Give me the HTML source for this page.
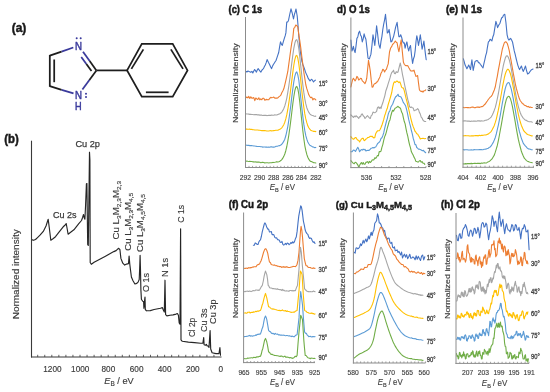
<!DOCTYPE html>
<html><head><meta charset="utf-8"><title>XPS figure</title>
<style>html,body{margin:0;padding:0;background:#fff;}svg{display:block;filter:blur(0.3px);}text{font-family:"Liberation Sans", sans-serif;}</style>
</head><body>
<svg width="550" height="392" viewBox="0 0 550 392">
<rect width="550" height="392" fill="#fff"/>
<polyline points="31.50,239.60 33.50,240.30 35.50,239.50 37.50,237.60 40.00,235.20 43.30,231.40 46.00,226.00 48.20,219.30 49.50,229.50 50.80,240.20 53.00,238.70 55.50,236.70 59.00,232.20 63.20,226.80 65.20,225.00 66.20,223.50 67.20,229.00 68.10,234.20 70.00,232.80 73.90,229.80 78.80,223.70 81.50,220.50 82.60,217.50 83.50,214.50 84.30,218.00 84.90,219.20 85.60,205.00 86.40,184.00 86.90,183.50 87.30,215.00 87.70,244.50 88.30,245.50 88.90,200.00 89.50,152.20 89.90,160.00 90.20,262.50 91.30,264.30 94.10,262.20 105.00,256.40 113.80,251.60 116.10,250.60 118.40,248.30 119.90,249.50 120.90,258.40 122.80,263.20 124.70,265.10 126.60,264.10 128.50,263.60 129.10,256.00 129.80,264.20 130.40,269.30 131.40,277.00 133.00,280.80 134.90,284.00 136.80,283.40 138.10,282.10 139.20,279.50 139.70,268.00 140.10,255.30 140.50,270.00 140.90,290.00 141.40,299.30 142.70,301.30 143.60,301.50 143.90,308.30 144.30,303.00 145.00,297.00 145.30,309.50 146.50,310.80 150.30,310.60 154.10,309.50 160.50,308.30 162.40,307.60 163.10,309.50 164.30,312.10 165.00,280.20 165.60,314.60 166.90,315.90 170.00,315.30 173.10,314.90 176.10,314.10 177.40,313.50 178.40,315.30 179.20,323.00 180.00,324.20 180.60,228.80 181.00,339.80 182.30,341.30 188.40,342.10 194.50,342.60 200.60,343.20 202.90,343.20 203.70,337.50 204.10,344.70 205.50,345.20 206.40,344.40 207.20,346.00 208.30,346.00 209.00,347.50 210.10,330.60 210.70,349.00 212.10,352.80 216.00,353.60 219.00,353.60 219.90,347.50 220.50,355.10" fill="none" stroke="#262626" stroke-width="1.15" stroke-linejoin="round" stroke-linecap="round" stroke-linejoin="miter" stroke-miterlimit="20"/>
<polyline points="245.70,71.30 246.85,72.02 248.00,71.00 249.05,71.41 250.10,72.10 251.00,72.16 251.90,71.37 252.80,73.00 253.70,71.25 254.60,69.50 255.50,70.64 256.40,72.10 257.30,70.08 258.20,68.60 259.10,69.92 260.00,71.14 260.90,72.10 261.77,70.40 262.63,69.32 263.50,68.60 264.40,66.56 265.30,65.00 266.20,62.64 267.10,59.60 268.40,62.30 269.80,65.00 270.70,67.08 271.60,68.60 272.48,66.15 273.37,64.44 274.25,63.20 275.13,61.80 276.02,60.45 276.90,57.90 277.80,55.18 278.70,52.50 279.60,46.81 280.50,41.80 281.40,44.15 282.30,45.40 283.35,41.65 284.40,38.20 285.15,35.91 285.90,32.90 286.75,22.10 287.62,22.02 288.50,20.40 289.80,14.00 291.00,8.80 292.20,13.00 293.50,19.00 294.50,14.00 295.25,11.82 296.00,9.00 297.20,16.00 297.90,24.00 298.80,36.00 300.10,50.00 301.00,55.74 301.90,61.40 302.80,64.47 303.70,66.80 304.60,69.13 305.50,72.10 306.40,74.11 307.30,76.01 308.20,78.40 309.10,79.60 310.00,81.00 310.88,79.91 311.75,79.30 312.62,80.56 313.50,82.00 314.40,80.91 315.30,80.20" fill="none" stroke="#4472C4" stroke-width="1.1" stroke-linejoin="round" stroke-linecap="round"/>
<polyline points="245.80,97.87 246.80,97.04 247.80,97.88 248.80,96.43 249.80,98.49 250.80,96.75 251.80,98.08 252.80,98.08 253.80,97.62 254.80,100.66 255.80,97.97 256.80,98.92 257.80,99.50 258.80,97.74 259.80,99.87 260.80,98.78 261.80,99.77 262.80,98.30 263.80,98.28 264.80,100.14 265.80,99.64 266.80,99.40 267.80,99.79 268.80,99.66 269.80,98.27 270.80,97.37 271.80,97.72 272.80,97.54 273.80,97.08 274.80,98.17 275.80,98.05 276.80,98.13 277.80,97.91 278.80,96.82 279.80,96.08 280.80,95.19 281.80,92.76 282.80,90.90 283.80,88.80 284.80,84.82 285.80,80.71 286.80,76.08 287.80,71.46 288.80,64.19 289.80,56.72 290.80,49.36 291.80,42.70 292.80,38.10 293.80,28.33 294.80,27.31 295.80,24.98 296.80,25.61 297.80,26.84 298.80,34.71 299.80,40.83 300.80,48.02 301.80,56.56 302.80,63.98 303.80,72.05 304.80,78.41 305.80,84.74 306.80,88.65 307.80,91.69 308.80,94.84 309.80,96.59 310.80,97.64 311.80,97.17 312.80,99.86 313.80,98.56 314.80,99.01 315.80,99.98" fill="none" stroke="#ED7D31" stroke-width="1.1" stroke-linejoin="round" stroke-linecap="round"/>
<polyline points="245.80,113.76 246.80,114.02 247.80,114.01 248.80,114.16 249.80,114.35 250.80,114.34 251.80,114.53 252.80,114.55 253.80,114.71 254.80,114.49 255.80,114.60 256.80,114.62 257.80,114.92 258.80,114.90 259.80,115.11 260.80,115.11 261.80,115.16 262.80,115.47 263.80,115.35 264.80,115.33 265.80,115.28 266.80,115.59 267.80,115.56 268.80,115.28 269.80,115.36 270.80,115.37 271.80,115.09 272.80,115.20 273.80,115.32 274.80,114.87 275.80,114.99 276.80,114.99 277.80,114.46 278.80,114.14 279.80,113.74 280.80,113.07 281.80,112.05 282.80,110.39 283.80,108.50 284.80,105.92 285.80,102.36 286.80,98.08 287.80,92.46 288.80,86.03 289.80,79.04 290.80,70.97 291.80,62.83 292.80,55.23 293.80,48.40 294.80,43.27 295.80,40.17 296.80,39.62 297.80,42.54 298.80,48.56 299.80,56.99 300.80,66.39 301.80,75.62 302.80,84.59 303.80,92.39 304.80,98.77 305.80,103.88 306.80,107.72 307.80,110.31 308.80,112.37 309.80,113.81 310.80,114.74 311.80,115.18 312.80,115.56 313.80,115.97 314.80,116.35 315.80,116.16" fill="none" stroke="#A5A5A5" stroke-width="1.1" stroke-linejoin="round" stroke-linecap="round"/>
<polyline points="245.80,129.14 246.80,129.06 247.80,129.18 248.80,129.25 249.80,129.12 250.80,129.48 251.80,129.38 252.80,129.69 253.80,129.69 254.80,129.99 255.80,129.93 256.80,130.05 257.80,130.01 258.80,130.31 259.80,130.30 260.80,130.48 261.80,130.59 262.80,130.67 263.80,130.63 264.80,130.51 265.80,130.67 266.80,130.98 267.80,131.00 268.80,131.01 269.80,130.76 270.80,130.67 271.80,130.85 272.80,130.80 273.80,130.63 274.80,130.54 275.80,130.27 276.80,130.26 277.80,130.24 278.80,129.67 279.80,129.30 280.80,128.72 281.80,127.80 282.80,126.33 283.80,124.67 284.80,122.18 285.80,118.92 286.80,114.67 287.80,109.47 288.80,103.09 289.80,96.25 290.80,88.20 291.80,80.31 292.80,72.43 293.80,65.23 294.80,59.54 295.80,56.04 296.80,55.34 297.80,58.05 298.80,63.84 299.80,71.71 300.80,80.94 301.80,90.76 302.80,99.40 303.80,107.11 304.80,113.92 305.80,118.94 306.80,122.70 307.80,125.85 308.80,127.72 309.80,129.17 310.80,130.28 311.80,130.67 312.80,130.97 313.80,131.56 314.80,131.33 315.80,131.62" fill="none" stroke="#FFC000" stroke-width="1.1" stroke-linejoin="round" stroke-linecap="round"/>
<polyline points="245.80,145.11 246.80,145.32 247.80,145.35 248.80,145.41 249.80,145.63 250.80,145.43 251.80,145.64 252.80,145.74 253.80,145.96 254.80,146.04 255.80,146.18 256.80,146.36 257.80,146.51 258.80,146.57 259.80,146.52 260.80,146.78 261.80,146.76 262.80,147.12 263.80,147.06 264.80,147.05 265.80,147.11 266.80,147.05 267.80,147.21 268.80,146.98 269.80,147.17 270.80,146.79 271.80,146.84 272.80,147.16 273.80,147.09 274.80,146.97 275.80,146.39 276.80,146.29 277.80,146.09 278.80,145.78 279.80,145.66 280.80,144.97 281.80,144.20 282.80,142.91 283.80,141.14 284.80,139.18 285.80,135.78 286.80,131.41 287.80,126.58 288.80,120.10 289.80,113.01 290.80,105.42 291.80,96.90 292.80,88.99 293.80,81.80 294.80,76.44 295.80,73.00 296.80,71.93 297.80,74.81 298.80,80.18 299.80,88.51 300.80,98.06 301.80,107.35 302.80,116.36 303.80,124.16 304.80,130.68 305.80,135.66 306.80,139.16 307.80,142.00 308.80,143.78 309.80,145.21 310.80,145.67 311.80,146.34 312.80,147.00 313.80,147.13 314.80,147.64 315.80,147.42" fill="none" stroke="#5B9BD5" stroke-width="1.1" stroke-linejoin="round" stroke-linecap="round"/>
<polyline points="245.80,161.17 246.80,161.01 247.80,161.24 248.80,161.43 249.80,161.32 250.80,161.50 251.80,161.54 252.80,161.83 253.80,161.73 254.80,161.94 255.80,161.89 256.80,162.16 257.80,162.04 258.80,162.09 259.80,162.27 260.80,162.67 261.80,162.42 262.80,162.31 263.80,162.44 264.80,163.05 265.80,162.69 266.80,162.76 267.80,162.80 268.80,162.97 269.80,162.79 270.80,162.73 271.80,162.61 272.80,162.42 273.80,162.45 274.80,162.28 275.80,161.99 276.80,161.67 277.80,162.02 278.80,161.69 279.80,161.20 280.80,160.57 281.80,159.63 282.80,158.16 283.80,156.35 284.80,153.98 285.80,150.73 286.80,146.50 287.80,141.21 288.80,135.26 289.80,128.09 290.80,120.38 291.80,112.21 292.80,103.84 293.80,96.77 294.80,90.89 295.80,87.27 296.80,86.45 297.80,88.69 298.80,94.19 299.80,102.38 300.80,111.73 301.80,121.31 302.80,130.47 303.80,138.47 304.80,145.52 305.80,150.42 306.80,154.43 307.80,157.29 308.80,159.13 309.80,160.79 310.80,161.50 311.80,161.64 312.80,162.21 313.80,162.76 314.80,162.75 315.80,163.02" fill="none" stroke="#70AD47" stroke-width="1.1" stroke-linejoin="round" stroke-linecap="round"/>
<polyline points="350.90,40.10 351.90,50.90 352.65,49.24 353.40,46.40 354.25,50.37 355.10,52.60 356.00,46.06 356.90,38.40 357.80,37.01 358.70,32.73 359.60,31.20 360.50,34.90 361.40,36.60 362.30,41.90 363.20,38.78 364.10,33.90 365.00,36.98 365.90,39.30 366.95,48.10 368.00,58.00 368.70,58.80 369.40,58.90 370.15,56.36 370.90,54.40 371.95,45.51 373.00,34.80 373.90,39.87 374.80,45.50 375.70,36.08 376.60,25.90 377.65,34.21 378.70,43.70 379.40,46.36 380.10,48.20 381.00,41.43 381.90,36.60 382.80,29.48 383.70,24.10 384.60,19.83 385.50,14.25 386.40,23.34 387.30,33.00 388.20,32.27 389.10,29.40 390.00,35.35 390.90,41.90 391.75,41.56 392.60,39.30 393.70,36.09 394.80,31.20 395.57,27.39 396.33,24.79 397.10,22.30 398.00,30.13 398.90,36.60 399.80,36.73 400.70,34.80 401.60,37.16 402.50,41.00 403.40,42.99 404.30,42.80 405.10,48.20 406.00,44.32 406.90,41.90 407.80,47.42 408.70,50.90 409.60,47.39 410.50,45.50 411.55,55.47 412.60,63.40 413.50,58.72 414.40,56.20 415.20,50.38 416.00,41.72 416.80,35.70 417.65,39.89 418.50,45.50 419.40,40.38 420.30,34.80 421.20,41.54 422.10,49.10 423.00,45.62 423.90,41.00 424.67,47.66 425.43,54.16 426.20,59.80" fill="none" stroke="#4472C4" stroke-width="1.1" stroke-linejoin="round" stroke-linecap="round"/>
<polyline points="350.90,87.00 351.70,83.47 352.50,80.00 353.40,78.20 354.25,79.48 355.10,80.90 356.00,79.28 356.90,76.40 357.80,77.45 358.70,80.00 359.60,79.55 360.50,78.20 361.40,78.52 362.30,80.90 363.20,81.68 364.10,82.56 365.00,83.60 365.88,81.58 366.75,78.20 367.62,69.29 368.50,60.40 369.40,65.38 370.30,71.10 371.20,79.92 372.10,87.10 373.00,86.90 373.90,84.35 374.80,83.60 375.70,83.42 376.60,82.13 377.50,81.80 378.37,80.10 379.23,78.35 380.10,76.40 381.00,73.27 381.90,71.71 382.80,69.30 383.70,70.01 384.60,72.00 385.50,70.06 386.40,69.30 387.30,66.33 388.20,63.90 389.50,52.00 390.65,48.01 391.80,46.40 392.65,44.16 393.50,43.70 394.40,42.49 395.30,41.00 396.20,42.29 397.10,42.80 398.00,47.79 398.90,51.75 400.05,45.50 401.20,39.80 402.30,51.37 403.40,62.10 404.27,64.24 405.13,65.21 406.00,65.70 406.90,65.47 407.80,65.85 408.70,67.50 409.60,68.94 410.50,70.65 411.40,71.10 412.27,70.79 413.13,71.07 414.00,70.20 414.95,73.45 415.90,76.40 416.75,76.08 417.60,75.50 418.50,82.83 419.40,89.80 420.30,90.83 421.20,91.60 422.10,91.05 423.00,92.11 423.90,90.70 424.80,90.80 425.70,89.80" fill="none" stroke="#ED7D31" stroke-width="1.1" stroke-linejoin="round" stroke-linecap="round"/>
<polyline points="350.90,114.80 352.15,116.09 353.40,117.50 354.27,116.02 355.13,116.95 356.00,115.70 356.90,116.46 357.80,117.21 358.70,118.40 359.60,116.67 360.50,116.70 361.40,114.36 362.30,113.90 363.20,115.78 364.10,116.56 365.00,118.40 365.87,117.52 366.73,116.46 367.60,115.70 368.50,116.95 369.40,117.95 370.30,118.40 371.20,115.66 372.10,114.83 373.00,112.10 373.90,112.55 374.80,112.74 375.70,112.10 376.60,111.25 377.50,107.67 378.40,106.80 379.27,108.52 380.13,107.04 381.00,108.60 381.90,105.21 382.80,102.80 383.70,99.60 384.80,95.78 385.90,90.70 387.05,87.53 388.20,83.60 389.10,80.82 390.00,77.93 390.90,74.60 391.77,72.48 392.63,71.68 393.50,70.20 394.40,73.47 395.30,73.75 396.20,71.67 397.10,72.44 398.00,72.00 399.15,67.44 400.30,63.00 401.40,68.27 402.50,74.60 403.37,78.68 404.23,82.99 405.10,87.10 406.00,91.12 406.90,95.39 407.80,99.60 408.70,102.55 409.60,106.80 410.50,107.46 411.40,107.02 412.30,107.70 413.20,107.94 414.10,110.76 415.00,110.40 415.88,109.86 416.75,109.71 417.62,108.65 418.50,109.60 419.40,112.37 420.30,114.04 421.20,117.20 422.10,118.05 423.00,120.18 423.90,121.00 424.80,121.57 425.70,121.50" fill="none" stroke="#A5A5A5" stroke-width="1.1" stroke-linejoin="round" stroke-linecap="round"/>
<polyline points="350.90,136.60 352.15,138.35 353.40,139.30 354.27,138.72 355.13,137.63 356.00,137.50 356.90,139.19 357.80,140.17 358.70,140.24 359.60,142.00 360.50,140.58 361.40,138.92 362.30,138.40 363.20,138.21 364.10,140.66 365.00,140.20 365.87,139.09 366.73,138.80 367.60,137.50 368.50,137.47 369.40,137.09 370.30,136.20 371.20,136.60 372.10,136.22 373.00,137.32 373.90,137.95 374.80,137.50 375.70,133.70 376.60,132.10 377.48,130.89 378.35,130.68 379.23,130.78 380.10,129.50 381.00,127.49 381.90,125.32 382.80,122.50 383.70,119.64 384.60,115.93 385.50,113.50 386.40,110.42 387.30,108.26 388.20,104.50 389.35,100.85 390.50,97.00 391.75,92.50 392.62,87.32 393.50,83.60 394.40,81.80 395.27,82.38 396.13,81.54 397.00,81.00 397.93,81.70 398.87,82.71 399.80,81.80 400.70,84.12 401.60,87.10 402.48,87.89 403.37,88.00 404.25,90.70 405.13,94.35 406.02,98.20 406.90,101.40 407.80,105.25 408.70,109.14 409.60,113.00 410.50,117.23 411.40,120.59 412.30,124.00 413.20,126.66 414.10,128.79 415.00,131.25 415.87,132.14 416.73,133.71 417.60,134.00 418.50,135.61 419.40,137.08 420.30,139.00 421.20,138.44 422.10,138.46 423.00,138.30 423.90,138.48 424.80,138.74 425.70,138.50" fill="none" stroke="#FFC000" stroke-width="1.1" stroke-linejoin="round" stroke-linecap="round"/>
<polyline points="350.90,151.80 352.15,151.70 353.40,150.00 354.45,150.29 355.50,151.50 356.65,149.21 357.80,147.30 358.70,148.96 359.60,151.80 360.50,150.48 361.40,149.59 362.30,150.11 363.20,149.10 364.10,149.88 365.00,149.32 365.90,150.90 366.96,150.49 368.02,150.23 369.08,150.41 370.14,149.32 371.20,148.20 372.10,148.04 373.00,147.46 373.90,148.04 374.80,147.30 375.70,146.99 376.60,145.57 377.50,143.75 378.37,142.93 379.23,142.23 380.10,141.00 381.00,138.43 381.90,137.80 382.80,135.70 383.70,132.97 384.60,128.53 385.50,125.00 386.40,121.51 387.30,118.59 388.20,114.30 389.10,111.90 390.00,110.48 390.90,107.10 391.77,105.55 392.63,104.19 393.50,101.80 394.50,99.17 395.50,97.00 396.75,95.96 398.00,94.30 399.00,96.41 400.00,96.50 401.00,96.95 402.00,99.00 403.25,102.36 404.50,104.00 405.70,106.10 406.90,110.70 407.80,114.79 408.70,119.41 409.60,123.20 410.50,126.41 411.40,130.51 412.30,133.90 413.20,138.23 414.10,141.21 415.00,144.60 415.87,144.62 416.73,147.48 417.60,148.20 418.50,149.27 419.40,149.17 420.30,149.54 421.20,150.00 422.32,150.70 423.45,150.37 424.57,151.79 425.70,152.70" fill="none" stroke="#5B9BD5" stroke-width="1.1" stroke-linejoin="round" stroke-linecap="round"/>
<polyline points="350.90,160.70 352.15,162.19 353.40,163.40 354.27,163.72 355.13,162.30 356.00,162.50 356.90,163.65 357.80,164.93 358.70,167.00 359.60,165.37 360.50,163.63 361.40,162.50 362.30,164.20 363.20,162.47 364.10,164.30 364.98,164.15 365.85,162.40 366.73,162.14 367.60,161.60 368.50,163.19 369.40,161.40 370.30,162.50 371.20,161.65 372.10,159.95 373.00,159.80 373.90,159.85 374.80,157.82 375.70,158.41 376.60,157.10 377.48,155.52 378.35,155.83 379.23,151.57 380.10,151.80 381.00,151.09 381.90,147.41 382.80,144.60 383.70,140.39 384.60,136.88 385.50,134.80 386.40,131.85 387.30,128.09 388.20,125.00 389.09,121.57 389.98,119.94 390.86,115.76 391.75,112.50 392.64,110.27 393.52,111.21 394.41,109.36 395.30,108.00 396.20,107.66 397.10,107.08 398.00,106.25 398.90,107.26 399.80,107.64 400.70,108.90 401.60,112.05 402.50,113.74 403.40,117.90 404.27,121.54 405.13,123.90 406.00,128.60 406.90,132.88 407.80,136.44 408.70,141.00 409.60,144.82 410.50,147.90 411.40,151.80 412.27,153.43 413.13,154.99 414.00,157.10 414.92,158.66 415.83,161.31 416.75,161.60 417.63,161.96 418.52,162.00 419.40,160.70 420.30,160.62 421.20,162.27 422.10,161.60 423.00,163.21 423.90,163.18 424.80,164.30" fill="none" stroke="#70AD47" stroke-width="1.1" stroke-linejoin="round" stroke-linecap="round"/>
<polyline points="463.40,58.90 464.25,61.79 465.10,65.10 466.00,66.73 466.90,68.70 467.80,66.94 468.70,65.10 469.60,66.95 470.50,69.60 471.90,59.80 473.20,70.50 474.10,65.94 475.00,61.60 475.87,60.92 476.73,60.61 477.60,60.70 478.50,62.81 479.40,62.71 480.30,64.25 481.20,65.39 482.10,66.76 483.00,67.80 483.90,63.73 484.80,59.80 485.70,55.71 486.60,52.60 487.50,46.79 488.40,41.90 489.25,41.17 490.10,39.25 491.00,39.95 491.90,41.00 492.80,37.02 493.70,34.80 494.80,28.13 495.90,21.40 496.75,24.21 497.60,27.60 498.80,25.05 500.00,23.20 500.88,20.03 501.75,17.80 502.62,17.22 503.50,15.10 504.80,14.25 505.90,22.30 507.10,34.80 508.00,38.44 508.90,40.10 509.80,39.03 510.70,38.40 511.60,40.08 512.50,41.90 513.38,46.30 514.25,50.90 515.12,54.07 516.00,58.00 516.90,61.57 517.80,65.10 518.70,67.66 519.60,69.60 520.50,67.67 521.40,66.00 522.30,68.96 523.20,71.40 524.35,69.04 525.50,66.00 526.55,70.55 527.60,74.00 528.35,73.45 529.10,73.00 530.15,71.29 531.20,70.00 532.10,69.39 533.00,69.00" fill="none" stroke="#4472C4" stroke-width="1.1" stroke-linejoin="round" stroke-linecap="round"/>
<polyline points="463.30,107.37 464.30,107.69 465.30,107.58 466.30,107.44 467.30,107.60 468.30,107.54 469.30,107.74 470.30,107.77 471.30,107.27 472.30,107.14 473.30,107.11 474.30,107.74 475.30,107.67 476.30,107.29 477.30,106.99 478.30,107.10 479.30,107.37 480.30,106.96 481.30,106.66 482.30,106.58 483.30,105.93 484.30,104.78 485.30,103.96 486.30,102.39 487.30,101.03 488.30,99.48 489.30,98.24 490.30,97.04 491.30,96.37 492.30,94.77 493.30,92.22 494.30,89.91 495.30,86.74 496.30,81.25 497.30,76.31 498.30,70.43 499.30,65.19 500.30,59.61 501.30,54.55 502.30,49.27 503.30,45.86 504.30,42.84 505.30,41.76 506.30,42.12 507.30,43.47 508.30,46.84 509.30,50.88 510.30,56.55 511.30,61.85 512.30,67.65 513.30,73.29 514.30,78.44 515.30,83.76 516.30,88.18 517.30,91.81 518.30,95.39 519.30,98.58 520.30,100.76 521.30,102.02 522.30,103.44 523.30,103.97 524.30,105.19 525.30,105.48 526.30,106.00 527.30,106.75 528.30,106.42 529.30,107.39 530.30,107.08 531.30,107.52 532.30,107.53" fill="none" stroke="#ED7D31" stroke-width="1.1" stroke-linejoin="round" stroke-linecap="round"/>
<polyline points="463.30,121.04 464.30,120.86 465.30,120.88 466.30,121.03 467.30,121.09 468.30,121.16 469.30,121.11 470.30,121.43 471.30,121.11 472.30,121.19 473.30,121.09 474.30,121.02 475.30,121.10 476.30,121.25 477.30,120.91 478.30,120.72 479.30,120.88 480.30,121.11 481.30,120.79 482.30,120.93 483.30,121.02 484.30,120.77 485.30,120.19 486.30,120.31 487.30,119.82 488.30,119.41 489.30,118.59 490.30,117.90 491.30,116.77 492.30,114.97 493.30,112.76 494.30,110.18 495.30,107.42 496.30,103.30 497.30,98.77 498.30,93.97 499.30,88.24 500.30,82.49 501.30,76.49 502.30,71.00 503.30,65.73 504.30,61.53 505.30,58.03 506.30,56.09 507.30,55.70 508.30,57.25 509.30,59.84 510.30,63.98 511.30,68.88 512.30,74.81 513.30,80.32 514.30,86.15 515.30,92.08 516.30,97.30 517.30,102.02 518.30,106.33 519.30,109.81 520.30,112.68 521.30,115.20 522.30,116.66 523.30,118.33 524.30,119.15 525.30,120.11 526.30,120.21 527.30,120.97 528.30,121.47 529.30,121.77 530.30,121.80 531.30,121.79 532.30,122.23" fill="none" stroke="#A5A5A5" stroke-width="1.1" stroke-linejoin="round" stroke-linecap="round"/>
<polyline points="463.30,135.90 464.30,135.78 465.30,135.67 466.30,135.80 467.30,135.81 468.30,135.69 469.30,135.87 470.30,135.94 471.30,135.87 472.30,135.85 473.30,135.87 474.30,135.70 475.30,135.65 476.30,135.66 477.30,135.65 478.30,135.86 479.30,135.35 480.30,135.68 481.30,135.32 482.30,135.38 483.30,135.31 484.30,135.01 485.30,134.98 486.30,134.87 487.30,134.35 488.30,134.06 489.30,133.14 490.30,132.32 491.30,131.31 492.30,129.55 493.30,127.61 494.30,125.43 495.30,122.42 496.30,119.07 497.30,114.68 498.30,110.21 499.30,105.18 500.30,99.65 501.30,94.00 502.30,88.22 503.30,82.93 504.30,77.99 505.30,74.00 506.30,71.26 507.30,69.42 508.30,69.42 509.30,70.79 510.30,73.47 511.30,77.09 512.30,82.12 513.30,87.47 514.30,92.93 515.30,98.62 516.30,104.20 517.30,109.25 518.30,114.23 519.30,118.45 520.30,122.04 521.30,125.18 522.30,127.57 523.30,129.85 524.30,131.51 525.30,132.34 526.30,133.46 527.30,134.32 528.30,134.73 529.30,135.08 530.30,135.47 531.30,135.86 532.30,135.84" fill="none" stroke="#FFC000" stroke-width="1.1" stroke-linejoin="round" stroke-linecap="round"/>
<polyline points="463.30,149.65 464.30,149.87 465.30,149.81 466.30,149.78 467.30,149.70 468.30,150.02 469.30,150.06 470.30,150.05 471.30,149.74 472.30,149.96 473.30,149.84 474.30,149.64 475.30,149.69 476.30,149.74 477.30,149.81 478.30,149.76 479.30,149.55 480.30,149.64 481.30,149.58 482.30,149.71 483.30,149.59 484.30,149.25 485.30,149.14 486.30,148.94 487.30,148.54 488.30,148.24 489.30,147.35 490.30,146.90 491.30,145.71 492.30,144.01 493.30,142.38 494.30,140.01 495.30,137.47 496.30,133.98 497.30,129.74 498.30,125.26 499.30,120.37 500.30,115.03 501.30,109.25 502.30,103.39 503.30,98.05 504.30,92.96 505.30,88.39 506.30,85.19 507.30,83.31 508.30,82.58 509.30,83.09 510.30,85.97 511.30,89.15 512.30,93.77 513.30,98.81 514.30,104.73 515.30,110.22 516.30,116.08 517.30,121.11 518.30,126.71 519.30,131.17 520.30,134.72 521.30,138.12 522.30,140.78 523.30,143.35 524.30,144.67 525.30,145.89 526.30,146.93 527.30,148.13 528.30,148.87 529.30,148.97 530.30,149.31 531.30,149.72 532.30,149.74" fill="none" stroke="#5B9BD5" stroke-width="1.1" stroke-linejoin="round" stroke-linecap="round"/>
<polyline points="463.30,163.85 464.30,163.96 465.30,163.64 466.30,163.87 467.30,163.60 468.30,163.55 469.30,163.60 470.30,163.64 471.30,163.40 472.30,163.62 473.30,163.47 474.30,163.34 475.30,163.27 476.30,163.43 477.30,163.23 478.30,163.38 479.30,163.28 480.30,163.61 481.30,163.01 482.30,163.33 483.30,163.00 484.30,162.90 485.30,162.93 486.30,162.99 487.30,162.40 488.30,161.76 489.30,161.41 490.30,160.62 491.30,159.49 492.30,158.52 493.30,156.76 494.30,155.10 495.30,152.14 496.30,148.87 497.30,145.47 498.30,140.86 499.30,135.75 500.30,130.25 501.30,124.81 502.30,119.05 503.30,113.43 504.30,108.12 505.30,103.35 506.30,99.56 507.30,97.29 508.30,96.29 509.30,96.44 510.30,98.43 511.30,101.57 512.30,105.87 513.30,111.12 514.30,116.62 515.30,122.39 516.30,128.31 517.30,133.96 518.30,139.13 519.30,143.43 520.30,147.24 521.30,151.00 522.30,153.81 523.30,156.05 524.30,158.14 525.30,159.25 526.30,160.35 527.30,161.18 528.30,161.45 529.30,162.08 530.30,162.29 531.30,162.46 532.30,162.76" fill="none" stroke="#70AD47" stroke-width="1.1" stroke-linejoin="round" stroke-linecap="round"/>
<polyline points="253.40,245.20 254.30,245.20 255.20,242.89 256.10,243.40 257.05,244.39 258.00,244.50 258.80,242.07 259.60,240.70 260.50,239.88 261.40,236.25 262.30,231.53 263.20,228.20 264.30,224.00 265.00,222.90 265.90,224.60 266.80,227.37 267.70,229.10 268.60,229.12 269.50,232.05 270.40,231.80 271.27,231.51 272.13,234.63 273.00,234.50 273.90,234.86 274.80,237.41 275.70,238.00 276.60,237.85 277.50,239.62 278.40,239.80 279.30,240.30 280.20,242.29 281.10,242.50 281.98,241.45 282.85,244.40 283.73,245.10 284.60,244.30 285.50,243.36 286.40,244.57 287.30,243.03 288.20,243.40 289.10,244.69 290.00,243.87 290.90,242.47 291.80,243.40 292.70,241.78 293.60,242.84 294.50,241.60 295.38,238.86 296.25,237.10 297.12,231.43 298.00,222.90 298.75,216.16 299.50,212.10 300.70,205.90 301.40,206.87 302.10,210.40 303.40,221.10 304.30,225.22 305.20,230.00 306.10,232.42 307.00,233.60 307.88,234.47 308.75,237.10 309.62,238.37 310.50,238.00 311.40,238.58 312.30,240.70 313.20,242.35 314.10,241.76 315.00,243.40" fill="none" stroke="#4472C4" stroke-width="1.1" stroke-linejoin="round" stroke-linecap="round"/>
<polyline points="244.50,268.40 245.28,268.46 246.05,268.13 246.82,268.29 247.60,268.48 248.38,267.76 249.15,267.64 249.92,268.17 250.70,267.50 251.47,267.64 252.24,267.08 253.01,267.30 253.79,266.82 254.56,266.69 255.33,266.81 256.10,266.60 256.98,265.26 257.85,264.65 258.73,264.38 259.60,263.90 260.30,262.10 261.00,261.00 261.65,259.01 262.30,256.80 263.50,252.50 264.60,249.60 265.25,248.86 265.90,248.75 266.80,250.50 267.70,253.20 268.60,258.00 269.50,262.10 270.37,262.51 271.23,264.41 272.10,264.80 272.90,264.92 273.70,265.22 274.50,264.90 275.30,265.41 276.10,265.84 276.90,265.60 277.70,266.33 278.50,266.19 279.30,266.60 280.11,266.58 280.92,266.55 281.73,267.49 282.54,266.92 283.35,266.64 284.15,267.38 284.96,266.75 285.77,267.33 286.58,266.65 287.39,266.95 288.20,267.50 289.00,267.47 289.80,267.56 290.60,267.26 291.40,267.06 292.20,266.89 293.00,266.38 293.80,266.55 294.60,266.54 295.40,266.60 296.20,265.92 297.00,264.50 298.00,260.40 299.00,252.00 299.80,240.70 300.50,231.00 301.10,226.40 301.80,230.00 302.50,237.10 303.40,248.00 304.30,258.60 305.15,262.27 306.00,265.70 306.92,265.68 307.83,267.01 308.75,267.50 309.53,267.48 310.31,267.49 311.09,268.05 311.88,268.31 312.66,268.39 313.44,267.88 314.22,268.18 315.00,268.40" fill="none" stroke="#ED7D31" stroke-width="1.1" stroke-linejoin="round" stroke-linecap="round"/>
<polyline points="244.50,291.60 245.32,291.60 246.13,291.18 246.95,291.26 247.77,291.14 248.58,291.48 249.40,291.03 250.22,291.22 251.03,291.60 251.85,291.30 252.67,290.72 253.48,290.67 254.30,290.70 255.06,290.71 255.81,289.94 256.57,290.06 257.33,290.33 258.09,290.02 258.84,290.51 259.60,289.80 260.50,288.15 261.40,286.55 262.30,285.40 263.30,281.00 264.10,276.40 264.80,273.48 265.50,271.10 266.15,272.85 266.80,274.60 267.50,279.00 268.20,285.40 268.93,286.22 269.67,287.80 270.40,288.00 271.16,288.01 271.91,288.27 272.67,288.65 273.43,288.48 274.19,288.81 274.94,288.89 275.70,288.90 276.52,289.29 277.35,288.75 278.17,289.56 278.99,289.41 279.82,289.65 280.64,289.61 281.46,290.37 282.28,289.39 283.11,290.57 283.93,290.08 284.75,290.88 285.58,290.93 286.40,290.70 287.22,291.00 288.04,290.95 288.85,291.38 289.67,290.52 290.49,290.53 291.31,290.50 292.13,290.98 292.95,290.31 293.76,291.00 294.58,290.61 295.40,290.70 296.10,288.61 296.80,286.84 297.50,285.40 298.25,277.11 299.00,269.30 299.80,255.00 300.50,247.30 301.30,252.00 302.30,265.00 303.40,276.40 304.00,282.20 304.60,288.90 305.43,289.73 306.25,290.51 307.07,291.21 307.90,291.60 308.69,291.41 309.48,291.69 310.27,291.60 311.06,291.81 311.84,291.73 312.63,291.63 313.42,291.04 314.21,291.55 315.00,291.60" fill="none" stroke="#A5A5A5" stroke-width="1.1" stroke-linejoin="round" stroke-linecap="round"/>
<polyline points="244.50,313.00 245.32,312.70 246.13,313.24 246.95,313.15 247.77,312.22 248.58,312.18 249.40,312.04 250.22,313.03 251.03,312.43 251.85,312.31 252.67,312.42 253.48,311.89 254.30,312.10 255.08,311.83 255.85,311.32 256.62,311.64 257.40,310.96 258.18,311.15 258.95,311.14 259.73,310.58 260.50,310.40 261.30,308.25 262.10,305.24 262.90,303.20 263.75,299.29 264.60,296.10 265.50,293.40 266.15,295.72 266.80,297.90 267.70,302.29 268.60,306.80 269.48,306.98 270.37,307.86 271.25,308.60 272.06,309.14 272.86,308.75 273.67,309.15 274.47,309.20 275.27,309.56 276.08,309.78 276.88,310.04 277.69,310.20 278.50,310.47 279.30,310.40 280.09,310.62 280.89,310.65 281.68,310.53 282.48,309.86 283.27,310.75 284.07,310.73 284.86,310.85 285.66,310.63 286.45,311.48 287.24,310.79 288.04,311.56 288.83,311.46 289.63,311.76 290.42,311.98 291.22,312.42 292.01,312.32 292.81,312.32 293.60,312.10 294.48,312.11 295.35,311.26 296.23,310.85 297.10,310.40 298.05,300.41 299.00,290.70 299.70,280.99 300.40,271.10 301.30,272.50 302.10,274.60 302.75,285.68 303.40,296.10 304.00,303.24 304.60,310.40 305.43,310.92 306.26,311.25 307.09,312.44 307.92,312.49 308.75,313.00 309.53,313.28 310.31,313.17 311.09,313.48 311.88,312.90 312.66,313.60 313.44,313.49 314.22,314.18 315.00,313.90" fill="none" stroke="#FFC000" stroke-width="1.1" stroke-linejoin="round" stroke-linecap="round"/>
<polyline points="244.50,336.60 245.32,336.53 246.13,336.53 246.95,336.26 247.77,336.24 248.58,335.84 249.40,335.37 250.22,336.16 251.03,335.74 251.85,336.04 252.67,336.13 253.48,335.77 254.30,335.70 255.08,335.55 255.85,334.81 256.62,335.27 257.40,334.27 258.18,334.43 258.95,334.05 259.73,334.13 260.50,333.90 261.30,331.50 262.10,328.70 262.90,326.80 263.75,322.17 264.60,317.90 265.50,316.10 266.15,317.43 266.80,319.60 267.70,324.81 268.60,330.40 269.48,331.37 270.37,331.67 271.25,333.00 272.06,333.68 272.86,333.21 273.67,333.74 274.47,334.39 275.27,333.40 276.08,333.94 276.88,334.17 277.69,334.16 278.50,334.95 279.30,334.80 280.09,334.84 280.89,335.38 281.68,334.93 282.48,335.31 283.27,335.17 284.07,335.27 284.86,335.57 285.66,335.77 286.45,335.44 287.24,335.55 288.04,335.70 288.83,335.96 289.63,335.68 290.42,336.12 291.22,336.64 292.01,336.00 292.81,336.43 293.60,336.60 294.48,336.68 295.35,335.52 296.23,334.98 297.10,334.80 298.05,326.43 299.00,317.90 300.00,300.00 300.70,291.60 301.50,297.00 302.50,305.00 303.40,317.90 304.00,324.95 304.60,332.00 305.43,333.18 306.26,333.36 307.09,334.78 307.92,335.71 308.75,336.60 309.53,336.57 310.31,336.39 311.09,336.66 311.88,336.96 312.66,336.63 313.44,336.65 314.22,336.71 315.00,336.60" fill="none" stroke="#5B9BD5" stroke-width="1.1" stroke-linejoin="round" stroke-linecap="round"/>
<polyline points="244.50,358.60 245.32,358.68 246.13,358.79 246.95,358.57 247.77,357.99 248.58,358.27 249.40,358.00 250.22,357.94 251.03,357.70 251.85,357.75 252.67,357.94 253.48,357.33 254.30,357.50 255.08,357.35 255.85,357.66 256.62,356.89 257.40,356.76 258.18,356.96 258.95,356.59 259.73,356.38 260.50,356.25 261.30,354.05 262.10,350.48 262.90,348.20 263.75,344.16 264.60,340.20 265.50,338.40 266.15,340.06 266.80,342.00 267.70,346.42 268.60,351.80 269.48,352.44 270.37,353.59 271.25,354.50 272.06,354.22 272.86,354.81 273.67,354.95 274.47,355.50 275.27,355.47 276.08,355.54 276.88,355.70 277.69,355.77 278.50,355.93 279.30,356.25 280.09,356.36 280.89,356.15 281.68,356.11 282.48,356.53 283.27,356.87 284.07,356.59 284.86,356.12 285.66,357.18 286.45,357.12 287.24,357.10 288.04,357.27 288.83,357.55 289.63,357.87 290.42,357.51 291.22,357.67 292.01,358.36 292.81,358.12 293.60,358.00 294.48,357.01 295.35,356.27 296.23,356.70 297.10,355.40 298.05,343.22 299.00,332.10 299.85,323.86 300.70,315.20 301.60,317.19 302.50,319.60 303.20,330.43 303.90,341.10 304.55,348.56 305.20,355.40 306.09,355.47 306.98,356.66 307.86,357.76 308.75,358.00 309.53,358.36 310.31,358.77 311.09,357.97 311.88,358.18 312.66,358.32 313.44,358.53 314.22,358.35 315.00,358.60" fill="none" stroke="#70AD47" stroke-width="1.1" stroke-linejoin="round" stroke-linecap="round"/>
<polyline points="354.25,252.30 355.13,253.06 356.02,247.94 356.90,247.90 357.80,248.88 358.70,248.28 359.60,247.00 360.50,243.78 361.40,245.62 362.30,243.40 363.20,240.35 364.10,243.18 365.00,240.70 365.87,239.02 366.73,241.77 367.60,239.80 368.50,235.92 369.40,238.82 370.30,235.40 371.20,232.20 372.10,235.51 373.00,231.80 373.90,229.97 374.80,223.22 375.70,222.00 376.60,220.62 377.50,213.90 378.38,216.78 379.25,222.90 380.12,223.10 381.00,224.60 381.90,227.41 382.80,228.20 383.70,231.50 384.60,230.37 385.50,235.40 386.40,237.52 387.30,239.29 388.20,238.00 389.10,238.20 390.00,242.67 390.90,243.40 391.77,242.25 392.63,247.25 393.50,247.90 394.40,246.77 395.30,250.76 396.20,250.50 397.10,249.92 398.00,252.55 398.90,251.32 399.80,253.20 400.70,254.89 401.60,252.02 402.50,257.99 403.40,255.90 404.46,254.20 405.52,257.13 406.58,254.64 407.64,258.66 408.70,256.80 409.76,254.25 410.82,258.26 411.88,257.95 412.94,256.90 414.00,257.70 415.08,259.76 416.16,255.90 417.24,259.29 418.32,256.37 419.40,258.60 420.48,260.52 421.56,256.22 422.64,255.00 423.72,259.87 424.80,256.80" fill="none" stroke="#4472C4" stroke-width="1.1" stroke-linejoin="round" stroke-linecap="round"/>
<polyline points="354.25,273.50 355.36,273.76 356.48,271.93 357.59,271.98 358.70,271.10 359.90,270.26 361.10,268.92 362.30,269.30 363.50,269.41 364.70,267.29 365.90,267.50 367.07,267.32 368.23,264.56 369.40,264.50 370.30,264.69 371.20,263.90 372.10,260.85 373.00,256.80 374.35,250.09 375.70,244.30 377.05,239.74 378.40,233.60 379.45,230.09 380.50,227.30 381.65,227.82 382.80,230.00 384.15,234.16 385.50,237.10 386.85,239.69 388.20,243.40 389.55,246.34 390.90,248.75 392.07,250.29 393.23,253.81 394.40,255.00 395.60,256.24 396.80,259.20 398.00,260.40 399.20,262.23 400.40,263.43 401.60,264.50 402.93,264.55 404.25,267.03 405.57,266.55 406.90,268.00 408.10,268.83 409.30,271.42 410.50,272.00 411.67,271.12 412.83,272.23 414.00,271.50 415.35,272.67 416.70,273.16 418.05,271.87 419.40,273.00 420.48,273.51 421.56,272.50 422.64,274.42 423.72,273.12 424.80,273.75" fill="none" stroke="#ED7D31" stroke-width="1.1" stroke-linejoin="round" stroke-linecap="round"/>
<polyline points="354.25,293.40 354.94,293.11 355.90,292.70 357.04,292.22 358.25,291.70 359.44,291.18 360.50,290.70 361.46,290.25 362.40,289.80 363.32,289.34 364.21,288.89 365.07,288.44 365.90,288.00 366.71,287.61 367.50,287.30 368.27,286.98 369.00,286.60 369.68,286.10 370.30,285.40 370.85,284.51 371.33,283.47 371.76,282.31 372.16,281.03 372.57,279.66 373.00,278.20 373.45,276.60 373.90,274.83 374.35,272.96 374.80,271.06 375.25,269.22 375.70,267.50 376.15,265.94 376.61,264.48 377.07,263.08 377.53,261.66 377.97,260.19 378.40,258.60 378.81,256.70 379.20,254.49 379.57,252.21 379.95,250.13 380.32,248.47 380.70,247.50 381.08,247.32 381.46,247.77 381.84,248.64 382.22,249.77 382.61,250.95 383.00,252.00 383.39,252.93 383.78,253.89 384.17,254.91 384.58,256.02 385.02,257.24 385.50,258.60 386.02,260.13 386.56,261.80 387.12,263.58 387.73,265.45 388.39,267.37 389.10,269.30 389.88,271.36 390.74,273.60 391.64,275.89 392.56,278.10 393.49,280.11 394.40,281.80 395.30,283.12 396.20,284.16 397.10,285.01 398.00,285.73 398.90,286.40 399.80,287.10 400.67,287.81 401.50,288.46 402.34,289.06 403.20,289.63 404.11,290.17 405.10,290.70 406.15,291.21 407.23,291.70 408.36,292.16 409.57,292.60 410.88,293.01 411.59,293.26 412.30,293.40 413.15,293.88 414.00,293.77 415.00,293.43 416.00,294.13 417.05,294.14 418.10,294.47 419.10,294.87 420.10,294.77 420.95,295.49 421.80,295.01 423.00,295.20" fill="none" stroke="#A5A5A5" stroke-width="1.1" stroke-linejoin="round" stroke-linecap="round"/>
<polyline points="354.25,317.50 354.94,317.21 355.90,316.80 357.04,316.32 358.25,315.80 359.44,315.28 360.50,314.80 361.46,314.36 362.40,313.93 363.32,313.50 364.21,313.06 365.07,312.60 365.90,312.10 366.70,311.63 367.47,311.20 368.21,310.74 368.93,310.20 369.62,309.51 370.30,308.60 370.96,307.48 371.59,306.20 372.21,304.77 372.80,303.19 373.36,301.46 373.90,299.60 374.40,297.49 374.87,295.13 375.31,292.61 375.74,290.07 376.16,287.63 376.60,285.40 377.05,283.30 377.52,281.23 377.98,279.24 378.44,277.43 378.86,275.86 379.25,274.60 379.58,273.66 379.86,272.97 380.12,272.52 380.38,272.30 380.66,272.30 381.00,272.50 381.40,272.98 381.83,273.77 382.29,274.77 382.76,275.90 383.24,277.07 383.70,278.20 384.14,279.29 384.57,280.43 384.99,281.60 385.43,282.82 385.90,284.08 386.40,285.40 386.94,286.78 387.50,288.24 388.09,289.74 388.71,291.27 389.34,292.80 390.00,294.30 390.68,295.81 391.37,297.36 392.09,298.91 392.83,300.43 393.60,301.87 394.40,303.20 395.24,304.42 396.13,305.56 397.04,306.63 397.97,307.64 398.89,308.59 399.80,309.50 400.67,310.36 401.50,311.17 402.34,311.93 403.20,312.63 404.11,313.29 405.10,313.90 406.15,314.46 407.23,314.96 408.36,315.41 409.57,315.83 410.88,316.22 411.59,315.95 412.30,316.60 413.15,316.52 414.00,316.97 415.00,317.17 416.00,317.33 417.05,317.16 418.10,317.67 419.10,317.97 420.10,317.97 420.95,318.27 421.80,318.21 423.00,318.40" fill="none" stroke="#FFC000" stroke-width="1.1" stroke-linejoin="round" stroke-linecap="round"/>
<polyline points="354.25,336.60 354.94,336.31 355.90,335.90 357.04,335.42 358.25,334.90 359.44,334.38 360.50,333.90 361.46,333.47 362.40,333.05 363.32,332.63 364.21,332.20 365.07,331.74 365.90,331.25 366.71,330.76 367.50,330.30 368.27,329.82 369.00,329.25 369.68,328.57 370.30,327.70 370.85,326.66 371.33,325.50 371.76,324.21 372.16,322.79 372.57,321.26 373.00,319.60 373.46,317.71 373.93,315.56 374.41,313.29 374.87,311.03 375.30,308.92 375.70,307.10 376.05,305.59 376.36,304.29 376.64,303.14 376.92,302.09 377.20,301.06 377.50,300.00 377.83,298.88 378.17,297.75 378.52,296.65 378.86,295.63 379.19,294.73 379.50,294.00 379.77,293.44 380.02,293.02 380.25,292.72 380.48,292.54 380.73,292.47 381.00,292.50 381.29,292.61 381.58,292.81 381.88,293.12 382.21,293.57 382.58,294.18 383.00,295.00 383.49,296.10 384.06,297.47 384.66,299.01 385.27,300.62 385.86,302.18 386.40,303.60 386.86,304.83 387.26,305.94 387.63,307.02 388.03,308.12 388.51,309.33 389.10,310.70 389.83,312.29 390.67,314.06 391.58,315.93 392.53,317.83 393.48,319.67 394.40,321.40 395.30,323.04 396.20,324.66 397.10,326.24 398.00,327.74 398.90,329.13 399.80,330.40 400.67,331.53 401.50,332.54 402.34,333.44 403.20,334.26 404.11,335.01 405.10,335.70 406.15,336.31 407.23,336.83 408.36,337.27 409.57,337.66 410.88,338.03 411.59,337.81 412.30,338.40 413.15,338.56 414.00,338.77 415.00,338.50 416.00,339.13 417.05,339.37 418.10,339.47 419.10,339.68 420.10,339.77 420.95,339.80 421.80,340.01 423.00,340.20" fill="none" stroke="#5B9BD5" stroke-width="1.1" stroke-linejoin="round" stroke-linecap="round"/>
<polyline points="354.25,358.00 354.72,357.61 355.37,357.06 356.14,356.42 356.98,355.74 357.85,355.08 358.70,354.50 359.55,354.01 360.43,353.57 361.35,353.16 362.27,352.74 363.19,352.29 364.10,351.80 365.01,351.29 365.94,350.80 366.86,350.28 367.76,349.69 368.62,349.01 369.40,348.20 370.11,347.28 370.76,346.29 371.36,345.21 371.93,344.00 372.47,342.64 373.00,341.10 373.50,339.32 373.97,337.30 374.41,335.13 374.83,332.90 375.26,330.69 375.70,328.60 376.14,326.55 376.58,324.46 377.02,322.39 377.46,320.41 377.92,318.59 378.40,317.00 378.92,315.58 379.47,314.27 380.04,313.12 380.60,312.18 381.12,311.49 381.60,311.10 382.01,311.04 382.36,311.28 382.68,311.78 383.00,312.47 383.33,313.33 383.70,314.30 384.10,315.43 384.52,316.78 384.96,318.28 385.41,319.89 385.89,321.55 386.40,323.20 386.94,324.88 387.50,326.63 388.09,328.44 388.71,330.27 389.34,332.10 390.00,333.90 390.68,335.71 391.37,337.56 392.09,339.41 392.83,341.23 393.60,342.97 394.40,344.60 395.24,346.14 396.13,347.63 397.04,349.04 397.97,350.37 398.89,351.59 399.80,352.70 400.67,353.68 401.50,354.54 402.34,355.29 403.20,355.96 404.11,356.56 405.10,357.10 406.15,357.55 407.23,357.90 408.36,358.18 409.57,358.42 410.88,358.65 411.59,358.51 412.30,358.90 413.15,359.19 414.00,359.18 415.00,359.61 416.00,359.48 417.05,359.49 418.10,359.76 419.10,359.83 420.10,360.02 420.95,359.73 421.80,360.24 423.00,360.40" fill="none" stroke="#70AD47" stroke-width="1.1" stroke-linejoin="round" stroke-linecap="round"/>
<polyline points="456.50,235.40 457.38,240.28 458.25,240.70 459.12,234.81 460.00,233.60 460.90,238.33 461.80,238.00 462.70,230.66 463.60,228.20 464.50,227.55 465.40,224.60 466.30,226.49 467.20,230.00 468.10,235.48 469.00,236.25 469.88,231.62 470.75,230.00 471.62,231.22 472.50,236.25 473.40,232.80 474.30,228.20 475.20,228.90 476.10,233.60 477.00,231.94 477.90,227.30 478.80,230.88 479.70,238.00 480.60,232.22 481.50,224.60 482.38,222.62 483.25,222.90 484.12,227.16 485.00,226.40 485.90,223.09 486.80,224.60 487.70,232.81 488.60,239.80 489.50,233.68 490.40,230.00 491.30,224.26 492.20,215.70 493.10,218.93 494.00,226.40 494.88,221.67 495.75,221.10 496.62,227.37 497.50,231.80 498.40,219.92 499.30,212.10 500.20,220.13 501.10,226.40 502.00,222.31 502.90,219.30 503.80,227.51 504.70,233.60 505.60,227.15 506.50,223.75 507.38,228.17 508.25,230.00 509.12,230.30 510.00,231.80 510.90,229.01 511.80,224.60 512.70,225.22 513.60,230.90 514.50,229.66 515.40,224.60 516.30,225.26 517.20,230.00 518.10,230.16 519.00,227.30 519.88,232.32 520.75,238.90 521.62,231.66 522.50,228.20 523.40,228.63 524.30,224.60 525.20,226.69 526.10,231.80 527.00,231.67 527.90,230.00 529.10,249.60" fill="none" stroke="#4472C4" stroke-width="1.1" stroke-linejoin="round" stroke-linecap="round"/>
<polyline points="456.50,258.60 457.08,258.26 457.67,252.87 458.25,255.00 458.83,260.05 459.42,257.32 460.00,262.10 460.60,260.62 461.20,258.89 461.80,253.20 462.40,251.21 463.00,259.75 463.60,258.60 464.20,258.39 464.80,259.49 465.40,262.10 466.00,260.21 466.60,255.12 467.20,246.10 467.80,244.71 468.40,252.07 469.00,253.20 469.58,254.24 470.17,259.95 470.75,262.10 471.33,257.41 471.92,261.83 472.50,258.60 473.10,259.27 473.70,259.49 474.30,263.90 474.90,263.93 475.50,256.35 476.10,255.00 476.70,260.90 477.30,260.67 477.90,265.70 478.50,259.82 479.10,257.90 479.70,256.80 480.30,263.95 480.90,261.38 481.50,267.50 482.08,262.31 482.67,265.96 483.25,260.40 483.83,256.93 484.42,258.15 485.00,255.00 485.60,254.90 486.20,264.33 486.80,263.90 487.40,258.12 488.00,257.91 488.60,251.40 489.20,249.61 489.80,257.32 490.40,255.00 491.00,253.25 491.60,245.11 492.20,244.30 492.80,245.05 493.40,244.81 494.00,240.70 494.58,249.63 495.17,248.41 495.75,256.80 496.33,255.58 496.92,254.67 497.50,247.90 498.10,241.04 498.70,242.45 499.30,238.00 499.90,243.37 500.50,240.88 501.10,244.30 501.70,249.03 502.30,244.16 502.90,249.60 503.50,252.03 504.10,246.33 504.70,246.10 505.30,247.93 505.90,255.73 506.50,255.00 507.08,250.96 507.67,254.92 508.25,249.60 508.83,252.97 509.42,255.59 510.00,263.90 510.60,261.73 511.20,255.67 511.80,253.20 512.40,256.43 513.00,253.53 513.60,256.80 514.20,255.90 514.80,254.62 515.40,249.60 516.00,251.76 516.60,254.50 517.20,260.40 517.80,264.70 518.40,260.95 519.00,263.90 519.58,263.14 520.17,261.65 520.75,256.80 521.33,257.37 521.92,265.54 522.50,265.70 523.10,258.83 523.70,258.66 524.30,252.30 524.90,252.84 525.50,260.27 526.10,260.40 526.70,263.47 527.30,261.08 527.90,263.90" fill="none" stroke="#ED7D31" stroke-width="1.1" stroke-linejoin="round" stroke-linecap="round"/>
<polyline points="456.50,301.00 457.08,300.73 457.67,296.20 458.25,294.80 458.83,296.60 459.42,295.47 460.00,297.50 460.60,297.49 461.20,293.14 461.80,292.10 462.40,295.89 463.00,292.61 463.60,296.60 464.20,296.65 464.80,290.51 465.40,291.25 466.00,295.41 466.60,296.30 467.20,295.70 467.80,294.33 468.40,291.58 469.00,288.60 469.58,291.83 470.17,288.21 470.75,292.10 471.33,291.60 471.92,287.34 472.50,286.80 473.10,290.38 473.70,289.41 474.30,293.90 474.90,292.52 475.50,287.16 476.10,285.00 476.70,287.35 477.30,284.80 477.90,288.60 478.50,288.97 479.10,281.99 479.70,281.40 480.30,282.62 480.90,289.43 481.50,291.25 482.08,287.04 482.67,290.89 483.25,286.80 483.83,291.86 484.42,288.92 485.00,293.90 485.60,290.34 486.20,293.02 486.80,288.60 487.40,284.04 488.00,286.65 488.60,283.20 489.20,279.52 489.80,282.40 490.40,277.90 491.00,277.74 491.60,282.76 492.20,281.40 492.80,278.11 493.40,278.88 494.00,274.30 494.58,271.60 495.17,272.34 495.75,268.90 496.33,265.03 496.92,267.98 497.50,263.60 498.10,263.57 498.70,268.69 499.30,268.90 499.90,266.79 500.50,270.94 501.10,270.70 501.70,272.25 502.30,276.97 502.90,277.90 503.50,275.85 504.10,278.81 504.70,276.10 505.30,279.01 505.90,282.38 506.50,288.60 507.08,288.10 507.67,284.11 508.25,283.20 508.83,284.95 509.42,292.40 510.00,293.90 510.60,289.51 511.20,291.92 511.80,286.80 512.40,290.30 513.00,287.81 513.60,291.25 514.20,286.26 514.80,283.62 515.40,281.40 516.00,285.72 516.60,285.89 517.20,292.10 517.80,291.10 518.40,287.42 519.00,286.80 519.58,292.29 520.17,291.52 520.75,295.70 521.33,291.54 521.92,293.45 522.50,288.60 523.10,284.23 523.70,286.41 524.30,282.30 524.90,286.50 525.50,288.10 526.10,292.10 526.70,293.45 527.30,292.41 527.90,293.90" fill="none" stroke="#A5A5A5" stroke-width="1.1" stroke-linejoin="round" stroke-linecap="round"/>
<polyline points="456.50,318.90 457.08,318.94 457.67,314.94 458.25,315.40 458.83,317.62 459.42,316.05 460.00,318.00 460.60,318.03 461.20,313.21 461.80,313.60 462.40,316.36 463.00,315.40 463.60,317.10 464.20,316.76 464.80,314.46 465.40,314.50 466.00,315.27 466.60,312.15 467.20,311.80 467.80,314.46 468.40,313.19 469.00,317.10 469.58,317.57 470.17,313.89 470.75,313.60 471.33,317.55 471.92,315.93 472.50,318.90 473.10,317.99 473.70,313.47 474.30,312.70 474.90,315.46 475.50,313.39 476.10,316.25 476.70,315.20 477.30,310.30 477.90,310.90 478.50,310.55 479.10,314.55 479.70,315.40 480.30,315.71 480.90,310.96 481.50,311.80 482.08,312.41 482.67,307.07 483.25,308.20 483.83,310.94 484.42,310.14 485.00,313.60 485.60,313.77 486.20,312.52 486.80,310.00 487.40,311.80 488.00,313.51 488.60,313.60 489.20,310.22 489.80,309.43 490.40,306.40 491.00,303.01 491.60,303.99 492.20,299.30 492.80,295.26 493.40,296.79 494.00,292.10 494.58,290.43 495.17,292.35 495.75,290.40 496.33,290.62 496.92,295.04 497.50,295.70 498.10,294.74 498.70,290.40 499.30,286.80 499.90,284.06 500.50,287.63 501.10,285.00 501.70,285.45 502.30,290.69 502.90,291.25 503.50,292.60 504.10,298.32 504.70,301.00 505.30,302.53 505.90,308.69 506.50,311.80 507.08,310.94 507.67,312.71 508.25,315.40 508.83,316.19 509.42,313.43 510.00,313.60 510.60,315.83 511.20,314.69 511.80,317.10 512.40,317.71 513.00,312.44 513.60,312.70 514.20,315.91 514.80,315.15 515.40,318.90 516.00,318.03 516.60,315.18 517.20,314.50 517.80,317.38 518.40,320.53 519.00,320.70 519.58,318.20 520.17,315.06 520.75,315.40 521.33,315.40 521.92,311.72 522.50,310.90 523.10,311.92 523.70,317.95 524.30,318.90 524.90,315.94 525.50,315.86 526.10,313.60 526.70,312.28 527.30,314.27 527.90,311.80" fill="none" stroke="#FFC000" stroke-width="1.1" stroke-linejoin="round" stroke-linecap="round"/>
<polyline points="456.50,339.30 457.08,339.45 457.67,337.24 458.25,337.50 458.83,339.22 459.42,337.65 460.00,340.00 460.60,340.09 461.20,336.97 461.80,336.60 462.40,337.85 463.00,336.70 463.60,338.50 464.20,338.85 464.80,335.47 465.40,334.80 466.00,336.15 466.60,340.67 467.20,341.10 467.80,338.17 468.40,338.75 469.00,335.70 469.58,335.91 470.17,336.04 470.75,338.40 471.33,338.48 471.92,335.43 472.50,334.80 473.10,337.38 473.70,337.31 474.30,341.10 474.90,340.59 475.50,335.24 476.10,333.90 476.70,336.46 477.30,335.11 477.90,338.40 478.50,338.50 479.10,334.30 479.70,333.00 480.30,335.42 480.90,334.32 481.50,335.70 482.08,335.45 482.67,329.87 483.25,329.50 483.83,333.49 484.42,332.38 485.00,335.70 485.60,334.19 486.20,329.14 486.80,328.60 487.40,331.88 488.00,332.87 488.60,335.70 489.25,329.21 489.90,321.40 490.47,321.80 491.03,326.90 491.60,326.80 492.35,320.46 493.10,317.90 493.70,321.03 494.30,320.08 494.90,323.20 495.47,320.66 496.03,315.10 496.60,312.50 497.20,312.60 497.80,310.60 498.40,310.70 499.15,309.67 499.90,307.10 500.50,303.38 501.10,303.60 501.70,308.84 502.30,310.05 502.90,314.30 503.50,316.89 504.10,316.41 504.70,319.60 505.30,323.86 505.90,331.13 506.50,333.90 507.08,334.31 507.67,337.39 508.25,337.50 508.91,338.08 509.57,337.91 510.24,338.56 510.90,336.60 511.44,335.83 511.98,338.79 512.52,336.64 513.06,338.15 513.60,337.50 514.27,335.19 514.95,334.87 515.62,334.67 516.30,331.25 516.87,331.34 517.43,335.77 518.00,335.70 518.60,333.54 519.20,335.18 519.80,333.90 520.40,333.38 521.00,336.88 521.60,337.50 522.20,334.71 522.80,335.05 523.40,331.25 524.00,333.63 524.60,336.51 525.20,340.20 525.80,339.34 526.40,335.50 527.00,335.70 527.60,337.14 528.20,336.14 528.80,337.50" fill="none" stroke="#5B9BD5" stroke-width="1.1" stroke-linejoin="round" stroke-linecap="round"/>
<polyline points="456.50,353.60 457.08,356.34 457.67,355.66 458.25,358.90 458.83,357.90 459.42,352.35 460.00,352.70 460.60,356.30 461.20,355.42 461.80,358.00 462.40,354.62 463.00,356.09 463.60,351.80 464.20,356.00 464.80,354.34 465.40,358.90 466.00,358.58 466.60,354.37 467.20,353.60 467.80,354.00 468.40,356.81 469.00,357.10 469.58,355.40 470.17,355.95 470.75,354.40 471.33,352.52 471.92,354.93 472.50,350.90 473.10,351.50 473.70,356.36 474.30,357.10 474.90,354.73 475.50,357.03 476.10,352.70 476.70,350.99 477.30,355.85 477.90,356.25 478.50,351.58 479.10,353.52 479.70,350.90 480.30,355.49 480.90,355.38 481.50,358.90 482.08,359.01 482.67,352.61 483.25,352.70 483.83,354.42 484.42,349.41 485.00,350.90 485.60,351.11 486.20,354.07 486.80,353.60 487.40,351.19 488.00,355.18 488.60,351.80 489.20,348.64 489.80,352.75 490.40,350.00 491.00,346.61 491.60,345.65 492.20,344.60 492.80,343.89 493.40,338.02 494.00,338.40 494.90,328.60 495.60,327.61 496.30,325.00 496.87,323.18 497.43,327.29 498.00,326.80 498.63,323.12 499.27,327.49 499.90,324.10 500.47,322.14 501.03,326.86 501.60,325.90 502.20,326.26 502.80,331.23 503.40,333.00 504.00,335.54 504.60,343.05 505.20,346.40 505.80,346.65 506.40,353.72 507.00,353.60 507.60,352.08 508.20,358.34 508.80,357.10 509.40,357.11 510.00,352.20 510.60,353.60 511.20,353.37 511.80,358.85 512.40,358.90 513.00,355.54 513.60,357.83 514.20,355.40 514.80,354.47 515.40,358.82 516.00,358.90 516.60,356.43 517.20,357.02 517.80,357.10 518.37,357.66 518.93,352.05 519.50,353.60 520.10,353.70 520.70,348.23 521.30,350.00 521.90,351.30 522.50,355.24 523.10,358.90 523.70,358.97 524.30,359.03 524.90,355.40 525.47,354.77 526.03,361.03 526.60,359.80 527.20,358.78 527.80,362.09 528.40,358.90" fill="none" stroke="#70AD47" stroke-width="1.1" stroke-linejoin="round" stroke-linecap="round"/>
<line x1="73.30" y1="47.50" x2="61.55" y2="51.55" stroke="#3a3a9c" stroke-width="1.75"/>
<line x1="61.55" y1="51.55" x2="49.80" y2="55.60" stroke="#1e1e1e" stroke-width="1.75"/>
<line x1="49.80" y1="55.00" x2="49.80" y2="86.80" stroke="#1e1e1e" stroke-width="1.75"/>
<line x1="54.20" y1="59.50" x2="54.20" y2="82.20" stroke="#1e1e1e" stroke-width="1.75"/>
<line x1="49.80" y1="86.20" x2="61.65" y2="89.80" stroke="#1e1e1e" stroke-width="1.75"/>
<line x1="61.65" y1="89.80" x2="73.50" y2="93.40" stroke="#3a3a9c" stroke-width="1.75"/>
<line x1="82.40" y1="89.40" x2="89.40" y2="79.90" stroke="#3a3a9c" stroke-width="1.75"/>
<line x1="89.40" y1="79.90" x2="96.40" y2="70.40" stroke="#1e1e1e" stroke-width="1.75"/>
<line x1="83.00" y1="51.70" x2="89.70" y2="61.05" stroke="#3a3a9c" stroke-width="1.75"/>
<line x1="89.70" y1="61.05" x2="96.40" y2="70.40" stroke="#1e1e1e" stroke-width="1.75"/>
<line x1="81.25" y1="57.05" x2="86.38" y2="63.98" stroke="#3a3a9c" stroke-width="1.75"/>
<line x1="86.38" y1="63.98" x2="91.50" y2="70.90" stroke="#1e1e1e" stroke-width="1.75"/>
<line x1="96.40" y1="70.40" x2="127.10" y2="70.40" stroke="#1e1e1e" stroke-width="1.75"/>
<polygon points="127.1,70.4 141.8,43.9 172.7,43.9 187.5,70.4 172.7,96.6 141.8,96.6" fill="none" stroke="#1e1e1e" stroke-width="1.75" stroke-linejoin="miter"/>
<line x1="131.40" y1="68.90" x2="143.40" y2="49.40" stroke="#1e1e1e" stroke-width="1.75"/>
<line x1="170.90" y1="49.40" x2="183.00" y2="68.90" stroke="#1e1e1e" stroke-width="1.75"/>
<line x1="145.90" y1="92.30" x2="168.60" y2="92.30" stroke="#1e1e1e" stroke-width="1.75"/>
<text x="74.90" y="49.90" font-size="11.8" stroke="#3a3a9c" stroke-width="0.5" fill="#3a3a9c" textLength="7.00" lengthAdjust="spacingAndGlyphs">N</text>
<text x="74.90" y="99.20" font-size="11.8" stroke="#3a3a9c" stroke-width="0.5" fill="#3a3a9c" textLength="7.00" lengthAdjust="spacingAndGlyphs">N</text>
<text x="75.10" y="109.50" font-size="11.0" stroke="#3a3a9c" stroke-width="0.5" fill="#3a3a9c" textLength="6.60" lengthAdjust="spacingAndGlyphs">H</text>
<circle cx="76.7" cy="38.3" r="1.0" fill="#3a3a9c"/>
<circle cx="80.7" cy="38.3" r="1.0" fill="#3a3a9c"/>
<circle cx="86.0" cy="93.8" r="1.0" fill="#3a3a9c"/>
<circle cx="86.0" cy="97.0" r="1.0" fill="#3a3a9c"/>
<text x="11.70" y="32.40" font-size="13.2" stroke="#1a1a1a" stroke-width="0.5" font-weight="bold" fill="#1a1a1a" textLength="14.60" lengthAdjust="spacingAndGlyphs">(a)</text>
<text x="4.20" y="143.40" font-size="12.6" stroke="#1a1a1a" stroke-width="0.5" font-weight="bold" fill="#1a1a1a" textLength="14.50" lengthAdjust="spacingAndGlyphs">(b)</text>
<text x="228.60" y="12.90" font-size="10.4" stroke="#1a1a1a" stroke-width="0.5" font-weight="bold" fill="#1a1a1a" textLength="33.50" lengthAdjust="spacingAndGlyphs">(c) C 1s</text>
<text x="337.10" y="12.90" font-size="10.4" stroke="#1a1a1a" stroke-width="0.5" font-weight="bold" fill="#1a1a1a" textLength="32.70" lengthAdjust="spacingAndGlyphs">d) O 1s</text>
<text x="446.00" y="12.90" font-size="10.4" stroke="#1a1a1a" stroke-width="0.5" font-weight="bold" fill="#1a1a1a" textLength="36.00" lengthAdjust="spacingAndGlyphs">(e) N 1s</text>
<text x="228.70" y="208.20" font-size="10.4" stroke="#1a1a1a" stroke-width="0.5" font-weight="bold" fill="#1a1a1a" textLength="39.40" lengthAdjust="spacingAndGlyphs">(f) Cu 2p</text>
<text x="441.10" y="208.20" font-size="10.4" stroke="#1a1a1a" stroke-width="0.5" font-weight="bold" fill="#1a1a1a" textLength="38.70" lengthAdjust="spacingAndGlyphs">(h) Cl 2p</text>
<text x="335.8" y="208.1" font-size="9.9" font-weight="bold" fill="#1a1a1a" stroke="#1a1a1a" stroke-width="0.45" textLength="76.2" lengthAdjust="spacingAndGlyphs">(g) Cu L<tspan font-size="7.4" dy="2.2">3</tspan><tspan dy="-2.2">M</tspan><tspan font-size="7.4" dy="2.2">4,5</tspan><tspan dy="-2.2">M</tspan><tspan font-size="7.4" dy="2.2">4,5</tspan></text>
<line x1="31.50" y1="140.70" x2="31.50" y2="357.50" stroke="#3a3a3a" stroke-width="1.1"/>
<line x1="31.00" y1="357.00" x2="221.50" y2="357.00" stroke="#3a3a3a" stroke-width="1.1"/>
<line x1="213.95" y1="357.00" x2="213.95" y2="354.80" stroke="#3a3a3a" stroke-width="0.8"/>
<line x1="206.90" y1="357.00" x2="206.90" y2="354.80" stroke="#3a3a3a" stroke-width="0.8"/>
<line x1="199.85" y1="357.00" x2="199.85" y2="354.80" stroke="#3a3a3a" stroke-width="0.8"/>
<line x1="192.80" y1="357.00" x2="192.80" y2="354.80" stroke="#3a3a3a" stroke-width="0.8"/>
<line x1="185.75" y1="357.00" x2="185.75" y2="354.80" stroke="#3a3a3a" stroke-width="0.8"/>
<line x1="178.70" y1="357.00" x2="178.70" y2="354.80" stroke="#3a3a3a" stroke-width="0.8"/>
<line x1="171.65" y1="357.00" x2="171.65" y2="354.80" stroke="#3a3a3a" stroke-width="0.8"/>
<line x1="164.60" y1="357.00" x2="164.60" y2="354.80" stroke="#3a3a3a" stroke-width="0.8"/>
<line x1="157.55" y1="357.00" x2="157.55" y2="354.80" stroke="#3a3a3a" stroke-width="0.8"/>
<line x1="150.50" y1="357.00" x2="150.50" y2="354.80" stroke="#3a3a3a" stroke-width="0.8"/>
<line x1="143.45" y1="357.00" x2="143.45" y2="354.80" stroke="#3a3a3a" stroke-width="0.8"/>
<line x1="136.40" y1="357.00" x2="136.40" y2="354.80" stroke="#3a3a3a" stroke-width="0.8"/>
<line x1="129.35" y1="357.00" x2="129.35" y2="354.80" stroke="#3a3a3a" stroke-width="0.8"/>
<line x1="122.30" y1="357.00" x2="122.30" y2="354.80" stroke="#3a3a3a" stroke-width="0.8"/>
<line x1="115.25" y1="357.00" x2="115.25" y2="354.80" stroke="#3a3a3a" stroke-width="0.8"/>
<line x1="108.20" y1="357.00" x2="108.20" y2="354.80" stroke="#3a3a3a" stroke-width="0.8"/>
<line x1="101.15" y1="357.00" x2="101.15" y2="354.80" stroke="#3a3a3a" stroke-width="0.8"/>
<line x1="94.10" y1="357.00" x2="94.10" y2="354.80" stroke="#3a3a3a" stroke-width="0.8"/>
<line x1="87.05" y1="357.00" x2="87.05" y2="354.80" stroke="#3a3a3a" stroke-width="0.8"/>
<line x1="80.00" y1="357.00" x2="80.00" y2="354.80" stroke="#3a3a3a" stroke-width="0.8"/>
<line x1="72.95" y1="357.00" x2="72.95" y2="354.80" stroke="#3a3a3a" stroke-width="0.8"/>
<line x1="65.90" y1="357.00" x2="65.90" y2="354.80" stroke="#3a3a3a" stroke-width="0.8"/>
<line x1="58.85" y1="357.00" x2="58.85" y2="354.80" stroke="#3a3a3a" stroke-width="0.8"/>
<line x1="51.80" y1="357.00" x2="51.80" y2="354.80" stroke="#3a3a3a" stroke-width="0.8"/>
<line x1="44.75" y1="357.00" x2="44.75" y2="354.80" stroke="#3a3a3a" stroke-width="0.8"/>
<line x1="37.70" y1="357.00" x2="37.70" y2="354.80" stroke="#3a3a3a" stroke-width="0.8"/>
<line x1="245.50" y1="17.00" x2="245.50" y2="168.00" stroke="#8c8c8c" stroke-width="1.0"/>
<line x1="245.00" y1="167.50" x2="316.20" y2="167.50" stroke="#8c8c8c" stroke-width="1.0"/>
<line x1="249.03" y1="167.50" x2="249.03" y2="165.90" stroke="#8c8c8c" stroke-width="0.8"/>
<line x1="252.56" y1="167.50" x2="252.56" y2="165.90" stroke="#8c8c8c" stroke-width="0.8"/>
<line x1="256.09" y1="167.50" x2="256.09" y2="165.90" stroke="#8c8c8c" stroke-width="0.8"/>
<line x1="259.62" y1="167.50" x2="259.62" y2="165.90" stroke="#8c8c8c" stroke-width="0.8"/>
<line x1="263.15" y1="167.50" x2="263.15" y2="165.90" stroke="#8c8c8c" stroke-width="0.8"/>
<line x1="266.68" y1="167.50" x2="266.68" y2="165.90" stroke="#8c8c8c" stroke-width="0.8"/>
<line x1="270.21" y1="167.50" x2="270.21" y2="165.90" stroke="#8c8c8c" stroke-width="0.8"/>
<line x1="273.74" y1="167.50" x2="273.74" y2="165.90" stroke="#8c8c8c" stroke-width="0.8"/>
<line x1="277.27" y1="167.50" x2="277.27" y2="165.90" stroke="#8c8c8c" stroke-width="0.8"/>
<line x1="280.80" y1="167.50" x2="280.80" y2="165.90" stroke="#8c8c8c" stroke-width="0.8"/>
<line x1="284.33" y1="167.50" x2="284.33" y2="165.90" stroke="#8c8c8c" stroke-width="0.8"/>
<line x1="287.86" y1="167.50" x2="287.86" y2="165.90" stroke="#8c8c8c" stroke-width="0.8"/>
<line x1="291.39" y1="167.50" x2="291.39" y2="165.90" stroke="#8c8c8c" stroke-width="0.8"/>
<line x1="294.92" y1="167.50" x2="294.92" y2="165.90" stroke="#8c8c8c" stroke-width="0.8"/>
<line x1="298.45" y1="167.50" x2="298.45" y2="165.90" stroke="#8c8c8c" stroke-width="0.8"/>
<line x1="301.98" y1="167.50" x2="301.98" y2="165.90" stroke="#8c8c8c" stroke-width="0.8"/>
<line x1="305.51" y1="167.50" x2="305.51" y2="165.90" stroke="#8c8c8c" stroke-width="0.8"/>
<line x1="309.04" y1="167.50" x2="309.04" y2="165.90" stroke="#8c8c8c" stroke-width="0.8"/>
<line x1="312.57" y1="167.50" x2="312.57" y2="165.90" stroke="#8c8c8c" stroke-width="0.8"/>
<line x1="316.10" y1="167.50" x2="316.10" y2="165.90" stroke="#8c8c8c" stroke-width="0.8"/>
<line x1="350.90" y1="17.50" x2="350.90" y2="168.10" stroke="#8c8c8c" stroke-width="1.0"/>
<line x1="350.40" y1="167.60" x2="426.00" y2="167.60" stroke="#8c8c8c" stroke-width="1.0"/>
<line x1="426.00" y1="167.60" x2="426.00" y2="166.00" stroke="#8c8c8c" stroke-width="0.8"/>
<line x1="418.60" y1="167.60" x2="418.60" y2="166.00" stroke="#8c8c8c" stroke-width="0.8"/>
<line x1="411.20" y1="167.60" x2="411.20" y2="166.00" stroke="#8c8c8c" stroke-width="0.8"/>
<line x1="403.80" y1="167.60" x2="403.80" y2="166.00" stroke="#8c8c8c" stroke-width="0.8"/>
<line x1="396.40" y1="167.60" x2="396.40" y2="166.00" stroke="#8c8c8c" stroke-width="0.8"/>
<line x1="389.00" y1="167.60" x2="389.00" y2="166.00" stroke="#8c8c8c" stroke-width="0.8"/>
<line x1="381.60" y1="167.60" x2="381.60" y2="166.00" stroke="#8c8c8c" stroke-width="0.8"/>
<line x1="374.20" y1="167.60" x2="374.20" y2="166.00" stroke="#8c8c8c" stroke-width="0.8"/>
<line x1="366.80" y1="167.60" x2="366.80" y2="166.00" stroke="#8c8c8c" stroke-width="0.8"/>
<line x1="359.40" y1="167.60" x2="359.40" y2="166.00" stroke="#8c8c8c" stroke-width="0.8"/>
<line x1="463.00" y1="17.50" x2="463.00" y2="167.80" stroke="#8c8c8c" stroke-width="1.0"/>
<line x1="462.50" y1="167.30" x2="534.00" y2="167.30" stroke="#8c8c8c" stroke-width="1.0"/>
<line x1="467.40" y1="167.30" x2="467.40" y2="165.70" stroke="#8c8c8c" stroke-width="0.8"/>
<line x1="471.80" y1="167.30" x2="471.80" y2="165.70" stroke="#8c8c8c" stroke-width="0.8"/>
<line x1="476.20" y1="167.30" x2="476.20" y2="165.70" stroke="#8c8c8c" stroke-width="0.8"/>
<line x1="480.60" y1="167.30" x2="480.60" y2="165.70" stroke="#8c8c8c" stroke-width="0.8"/>
<line x1="485.00" y1="167.30" x2="485.00" y2="165.70" stroke="#8c8c8c" stroke-width="0.8"/>
<line x1="489.40" y1="167.30" x2="489.40" y2="165.70" stroke="#8c8c8c" stroke-width="0.8"/>
<line x1="493.80" y1="167.30" x2="493.80" y2="165.70" stroke="#8c8c8c" stroke-width="0.8"/>
<line x1="498.20" y1="167.30" x2="498.20" y2="165.70" stroke="#8c8c8c" stroke-width="0.8"/>
<line x1="502.60" y1="167.30" x2="502.60" y2="165.70" stroke="#8c8c8c" stroke-width="0.8"/>
<line x1="507.00" y1="167.30" x2="507.00" y2="165.70" stroke="#8c8c8c" stroke-width="0.8"/>
<line x1="511.40" y1="167.30" x2="511.40" y2="165.70" stroke="#8c8c8c" stroke-width="0.8"/>
<line x1="515.80" y1="167.30" x2="515.80" y2="165.70" stroke="#8c8c8c" stroke-width="0.8"/>
<line x1="520.20" y1="167.30" x2="520.20" y2="165.70" stroke="#8c8c8c" stroke-width="0.8"/>
<line x1="524.60" y1="167.30" x2="524.60" y2="165.70" stroke="#8c8c8c" stroke-width="0.8"/>
<line x1="529.00" y1="167.30" x2="529.00" y2="165.70" stroke="#8c8c8c" stroke-width="0.8"/>
<line x1="533.40" y1="167.30" x2="533.40" y2="165.70" stroke="#8c8c8c" stroke-width="0.8"/>
<line x1="243.60" y1="212.50" x2="243.60" y2="363.10" stroke="#8c8c8c" stroke-width="1.0"/>
<line x1="243.10" y1="362.60" x2="315.00" y2="362.60" stroke="#8c8c8c" stroke-width="1.0"/>
<line x1="247.13" y1="362.60" x2="247.13" y2="361.00" stroke="#8c8c8c" stroke-width="0.8"/>
<line x1="250.66" y1="362.60" x2="250.66" y2="361.00" stroke="#8c8c8c" stroke-width="0.8"/>
<line x1="254.19" y1="362.60" x2="254.19" y2="361.00" stroke="#8c8c8c" stroke-width="0.8"/>
<line x1="257.72" y1="362.60" x2="257.72" y2="361.00" stroke="#8c8c8c" stroke-width="0.8"/>
<line x1="261.25" y1="362.60" x2="261.25" y2="361.00" stroke="#8c8c8c" stroke-width="0.8"/>
<line x1="264.78" y1="362.60" x2="264.78" y2="361.00" stroke="#8c8c8c" stroke-width="0.8"/>
<line x1="268.31" y1="362.60" x2="268.31" y2="361.00" stroke="#8c8c8c" stroke-width="0.8"/>
<line x1="271.84" y1="362.60" x2="271.84" y2="361.00" stroke="#8c8c8c" stroke-width="0.8"/>
<line x1="275.37" y1="362.60" x2="275.37" y2="361.00" stroke="#8c8c8c" stroke-width="0.8"/>
<line x1="278.90" y1="362.60" x2="278.90" y2="361.00" stroke="#8c8c8c" stroke-width="0.8"/>
<line x1="282.43" y1="362.60" x2="282.43" y2="361.00" stroke="#8c8c8c" stroke-width="0.8"/>
<line x1="285.96" y1="362.60" x2="285.96" y2="361.00" stroke="#8c8c8c" stroke-width="0.8"/>
<line x1="289.49" y1="362.60" x2="289.49" y2="361.00" stroke="#8c8c8c" stroke-width="0.8"/>
<line x1="293.02" y1="362.60" x2="293.02" y2="361.00" stroke="#8c8c8c" stroke-width="0.8"/>
<line x1="296.55" y1="362.60" x2="296.55" y2="361.00" stroke="#8c8c8c" stroke-width="0.8"/>
<line x1="300.08" y1="362.60" x2="300.08" y2="361.00" stroke="#8c8c8c" stroke-width="0.8"/>
<line x1="303.61" y1="362.60" x2="303.61" y2="361.00" stroke="#8c8c8c" stroke-width="0.8"/>
<line x1="307.14" y1="362.60" x2="307.14" y2="361.00" stroke="#8c8c8c" stroke-width="0.8"/>
<line x1="310.67" y1="362.60" x2="310.67" y2="361.00" stroke="#8c8c8c" stroke-width="0.8"/>
<line x1="314.20" y1="362.60" x2="314.20" y2="361.00" stroke="#8c8c8c" stroke-width="0.8"/>
<line x1="353.40" y1="212.50" x2="353.40" y2="363.50" stroke="#8c8c8c" stroke-width="1.0"/>
<line x1="352.90" y1="363.00" x2="425.60" y2="363.00" stroke="#8c8c8c" stroke-width="1.0"/>
<line x1="357.01" y1="363.00" x2="357.01" y2="361.40" stroke="#8c8c8c" stroke-width="0.8"/>
<line x1="360.62" y1="363.00" x2="360.62" y2="361.40" stroke="#8c8c8c" stroke-width="0.8"/>
<line x1="364.23" y1="363.00" x2="364.23" y2="361.40" stroke="#8c8c8c" stroke-width="0.8"/>
<line x1="367.84" y1="363.00" x2="367.84" y2="361.40" stroke="#8c8c8c" stroke-width="0.8"/>
<line x1="371.45" y1="363.00" x2="371.45" y2="361.40" stroke="#8c8c8c" stroke-width="0.8"/>
<line x1="375.06" y1="363.00" x2="375.06" y2="361.40" stroke="#8c8c8c" stroke-width="0.8"/>
<line x1="378.67" y1="363.00" x2="378.67" y2="361.40" stroke="#8c8c8c" stroke-width="0.8"/>
<line x1="382.28" y1="363.00" x2="382.28" y2="361.40" stroke="#8c8c8c" stroke-width="0.8"/>
<line x1="385.89" y1="363.00" x2="385.89" y2="361.40" stroke="#8c8c8c" stroke-width="0.8"/>
<line x1="389.50" y1="363.00" x2="389.50" y2="361.40" stroke="#8c8c8c" stroke-width="0.8"/>
<line x1="393.11" y1="363.00" x2="393.11" y2="361.40" stroke="#8c8c8c" stroke-width="0.8"/>
<line x1="396.72" y1="363.00" x2="396.72" y2="361.40" stroke="#8c8c8c" stroke-width="0.8"/>
<line x1="400.33" y1="363.00" x2="400.33" y2="361.40" stroke="#8c8c8c" stroke-width="0.8"/>
<line x1="403.94" y1="363.00" x2="403.94" y2="361.40" stroke="#8c8c8c" stroke-width="0.8"/>
<line x1="407.55" y1="363.00" x2="407.55" y2="361.40" stroke="#8c8c8c" stroke-width="0.8"/>
<line x1="411.16" y1="363.00" x2="411.16" y2="361.40" stroke="#8c8c8c" stroke-width="0.8"/>
<line x1="414.77" y1="363.00" x2="414.77" y2="361.40" stroke="#8c8c8c" stroke-width="0.8"/>
<line x1="418.38" y1="363.00" x2="418.38" y2="361.40" stroke="#8c8c8c" stroke-width="0.8"/>
<line x1="421.99" y1="363.00" x2="421.99" y2="361.40" stroke="#8c8c8c" stroke-width="0.8"/>
<line x1="425.60" y1="363.00" x2="425.60" y2="361.40" stroke="#8c8c8c" stroke-width="0.8"/>
<line x1="456.00" y1="213.00" x2="456.00" y2="363.90" stroke="#8c8c8c" stroke-width="1.0"/>
<line x1="455.50" y1="363.40" x2="529.00" y2="363.40" stroke="#8c8c8c" stroke-width="1.0"/>
<line x1="459.84" y1="363.40" x2="459.84" y2="361.80" stroke="#8c8c8c" stroke-width="0.8"/>
<line x1="463.68" y1="363.40" x2="463.68" y2="361.80" stroke="#8c8c8c" stroke-width="0.8"/>
<line x1="467.52" y1="363.40" x2="467.52" y2="361.80" stroke="#8c8c8c" stroke-width="0.8"/>
<line x1="471.36" y1="363.40" x2="471.36" y2="361.80" stroke="#8c8c8c" stroke-width="0.8"/>
<line x1="475.20" y1="363.40" x2="475.20" y2="361.80" stroke="#8c8c8c" stroke-width="0.8"/>
<line x1="479.04" y1="363.40" x2="479.04" y2="361.80" stroke="#8c8c8c" stroke-width="0.8"/>
<line x1="482.88" y1="363.40" x2="482.88" y2="361.80" stroke="#8c8c8c" stroke-width="0.8"/>
<line x1="486.72" y1="363.40" x2="486.72" y2="361.80" stroke="#8c8c8c" stroke-width="0.8"/>
<line x1="490.56" y1="363.40" x2="490.56" y2="361.80" stroke="#8c8c8c" stroke-width="0.8"/>
<line x1="494.40" y1="363.40" x2="494.40" y2="361.80" stroke="#8c8c8c" stroke-width="0.8"/>
<line x1="498.24" y1="363.40" x2="498.24" y2="361.80" stroke="#8c8c8c" stroke-width="0.8"/>
<line x1="502.08" y1="363.40" x2="502.08" y2="361.80" stroke="#8c8c8c" stroke-width="0.8"/>
<line x1="505.92" y1="363.40" x2="505.92" y2="361.80" stroke="#8c8c8c" stroke-width="0.8"/>
<line x1="509.76" y1="363.40" x2="509.76" y2="361.80" stroke="#8c8c8c" stroke-width="0.8"/>
<line x1="513.60" y1="363.40" x2="513.60" y2="361.80" stroke="#8c8c8c" stroke-width="0.8"/>
<line x1="517.44" y1="363.40" x2="517.44" y2="361.80" stroke="#8c8c8c" stroke-width="0.8"/>
<line x1="521.28" y1="363.40" x2="521.28" y2="361.80" stroke="#8c8c8c" stroke-width="0.8"/>
<line x1="525.12" y1="363.40" x2="525.12" y2="361.80" stroke="#8c8c8c" stroke-width="0.8"/>
<line x1="528.96" y1="363.40" x2="528.96" y2="361.80" stroke="#8c8c8c" stroke-width="0.8"/>
<text x="43.27" y="372.00" font-size="8.3" stroke="#3a3a3a" stroke-width="0.15" fill="#3a3a3a" textLength="18.27" lengthAdjust="spacingAndGlyphs">1200</text>
<text x="71.07" y="372.00" font-size="8.3" stroke="#3a3a3a" stroke-width="0.15" fill="#3a3a3a" textLength="18.27" lengthAdjust="spacingAndGlyphs">1000</text>
<text x="101.55" y="372.00" font-size="8.3" stroke="#3a3a3a" stroke-width="0.15" fill="#3a3a3a" textLength="13.70" lengthAdjust="spacingAndGlyphs">800</text>
<text x="129.75" y="372.00" font-size="8.3" stroke="#3a3a3a" stroke-width="0.15" fill="#3a3a3a" textLength="13.70" lengthAdjust="spacingAndGlyphs">600</text>
<text x="157.75" y="372.00" font-size="8.3" stroke="#3a3a3a" stroke-width="0.15" fill="#3a3a3a" textLength="13.70" lengthAdjust="spacingAndGlyphs">400</text>
<text x="185.95" y="372.00" font-size="8.3" stroke="#3a3a3a" stroke-width="0.15" fill="#3a3a3a" textLength="13.70" lengthAdjust="spacingAndGlyphs">200</text>
<text x="218.52" y="372.00" font-size="8.3" stroke="#3a3a3a" stroke-width="0.15" fill="#3a3a3a" textLength="4.57" lengthAdjust="spacingAndGlyphs">0</text>
<text x="239.80" y="179.80" font-size="7.0" stroke="#404040" stroke-width="0.15" fill="#404040" textLength="11.20" lengthAdjust="spacingAndGlyphs">292</text>
<text x="254.00" y="179.80" font-size="7.0" stroke="#404040" stroke-width="0.15" fill="#404040" textLength="11.20" lengthAdjust="spacingAndGlyphs">290</text>
<text x="268.10" y="179.80" font-size="7.0" stroke="#404040" stroke-width="0.15" fill="#404040" textLength="11.20" lengthAdjust="spacingAndGlyphs">288</text>
<text x="282.30" y="179.80" font-size="7.0" stroke="#404040" stroke-width="0.15" fill="#404040" textLength="11.20" lengthAdjust="spacingAndGlyphs">286</text>
<text x="295.80" y="179.80" font-size="7.0" stroke="#404040" stroke-width="0.15" fill="#404040" textLength="11.20" lengthAdjust="spacingAndGlyphs">284</text>
<text x="310.20" y="179.80" font-size="7.0" stroke="#404040" stroke-width="0.15" fill="#404040" textLength="11.20" lengthAdjust="spacingAndGlyphs">282</text>
<text x="361.00" y="179.80" font-size="7.0" stroke="#404040" stroke-width="0.15" fill="#404040" textLength="11.20" lengthAdjust="spacingAndGlyphs">536</text>
<text x="390.40" y="179.80" font-size="7.0" stroke="#404040" stroke-width="0.15" fill="#404040" textLength="11.20" lengthAdjust="spacingAndGlyphs">532</text>
<text x="420.00" y="179.80" font-size="7.0" stroke="#404040" stroke-width="0.15" fill="#404040" textLength="11.20" lengthAdjust="spacingAndGlyphs">528</text>
<text x="457.60" y="179.80" font-size="7.0" stroke="#404040" stroke-width="0.15" fill="#404040" textLength="11.20" lengthAdjust="spacingAndGlyphs">404</text>
<text x="475.00" y="179.80" font-size="7.0" stroke="#404040" stroke-width="0.15" fill="#404040" textLength="11.20" lengthAdjust="spacingAndGlyphs">402</text>
<text x="492.40" y="179.80" font-size="7.0" stroke="#404040" stroke-width="0.15" fill="#404040" textLength="11.20" lengthAdjust="spacingAndGlyphs">400</text>
<text x="509.90" y="179.80" font-size="7.0" stroke="#404040" stroke-width="0.15" fill="#404040" textLength="11.20" lengthAdjust="spacingAndGlyphs">398</text>
<text x="527.40" y="179.80" font-size="7.0" stroke="#404040" stroke-width="0.15" fill="#404040" textLength="11.20" lengthAdjust="spacingAndGlyphs">396</text>
<text x="238.40" y="374.90" font-size="7.0" stroke="#404040" stroke-width="0.15" fill="#404040" textLength="11.20" lengthAdjust="spacingAndGlyphs">965</text>
<text x="255.80" y="374.90" font-size="7.0" stroke="#404040" stroke-width="0.15" fill="#404040" textLength="11.20" lengthAdjust="spacingAndGlyphs">955</text>
<text x="273.90" y="374.90" font-size="7.0" stroke="#404040" stroke-width="0.15" fill="#404040" textLength="11.20" lengthAdjust="spacingAndGlyphs">945</text>
<text x="291.70" y="374.90" font-size="7.0" stroke="#404040" stroke-width="0.15" fill="#404040" textLength="11.20" lengthAdjust="spacingAndGlyphs">935</text>
<text x="309.00" y="374.90" font-size="7.0" stroke="#404040" stroke-width="0.15" fill="#404040" textLength="11.20" lengthAdjust="spacingAndGlyphs">925</text>
<text x="347.60" y="374.90" font-size="7.0" stroke="#404040" stroke-width="0.15" fill="#404040" textLength="11.20" lengthAdjust="spacingAndGlyphs">580</text>
<text x="365.80" y="374.90" font-size="7.0" stroke="#404040" stroke-width="0.15" fill="#404040" textLength="11.20" lengthAdjust="spacingAndGlyphs">575</text>
<text x="383.90" y="374.90" font-size="7.0" stroke="#404040" stroke-width="0.15" fill="#404040" textLength="11.20" lengthAdjust="spacingAndGlyphs">570</text>
<text x="401.70" y="374.90" font-size="7.0" stroke="#404040" stroke-width="0.15" fill="#404040" textLength="11.20" lengthAdjust="spacingAndGlyphs">565</text>
<text x="418.60" y="374.90" font-size="7.0" stroke="#404040" stroke-width="0.15" fill="#404040" textLength="11.20" lengthAdjust="spacingAndGlyphs">560</text>
<text x="462.00" y="375.10" font-size="7.0" stroke="#404040" stroke-width="0.15" fill="#404040" textLength="11.20" lengthAdjust="spacingAndGlyphs">207</text>
<text x="477.80" y="375.10" font-size="7.0" stroke="#404040" stroke-width="0.15" fill="#404040" textLength="11.20" lengthAdjust="spacingAndGlyphs">203</text>
<text x="493.40" y="375.10" font-size="7.0" stroke="#404040" stroke-width="0.15" fill="#404040" textLength="11.20" lengthAdjust="spacingAndGlyphs">199</text>
<text x="508.40" y="375.10" font-size="7.0" stroke="#404040" stroke-width="0.15" fill="#404040" textLength="11.20" lengthAdjust="spacingAndGlyphs">195</text>
<text x="523.60" y="375.10" font-size="7.0" stroke="#404040" stroke-width="0.15" fill="#404040" textLength="11.20" lengthAdjust="spacingAndGlyphs">191</text>
<text x="104.30" y="384.00" font-size="9.6" fill="#3a3a3a" stroke="#3a3a3a" stroke-width="0.15" textLength="29.40" lengthAdjust="spacingAndGlyphs"><tspan font-style="italic">E</tspan><tspan font-size="6.72" dy="2.2">B</tspan><tspan dy="-2.2"> / eV</tspan></text>
<text x="269.80" y="189.60" font-size="8.8" fill="#404040" stroke="#404040" stroke-width="0.15" textLength="25.20" lengthAdjust="spacingAndGlyphs"><tspan font-style="italic">E</tspan><tspan font-size="6.16" dy="2.2">B</tspan><tspan dy="-2.2"> / eV</tspan></text>
<text x="378.20" y="189.90" font-size="8.8" fill="#404040" stroke="#404040" stroke-width="0.15" textLength="25.60" lengthAdjust="spacingAndGlyphs"><tspan font-style="italic">E</tspan><tspan font-size="6.16" dy="2.2">B</tspan><tspan dy="-2.2"> / eV</tspan></text>
<text x="487.30" y="189.80" font-size="8.8" fill="#404040" stroke="#404040" stroke-width="0.15" textLength="25.40" lengthAdjust="spacingAndGlyphs"><tspan font-style="italic">E</tspan><tspan font-size="6.16" dy="2.2">B</tspan><tspan dy="-2.2"> / eV</tspan></text>
<text x="270.00" y="385.00" font-size="8.8" fill="#404040" stroke="#404040" stroke-width="0.15" textLength="25.00" lengthAdjust="spacingAndGlyphs"><tspan font-style="italic">E</tspan><tspan font-size="6.16" dy="2.2">B</tspan><tspan dy="-2.2"> / eV</tspan></text>
<text x="377.70" y="385.20" font-size="8.8" fill="#404040" stroke="#404040" stroke-width="0.15" textLength="25.00" lengthAdjust="spacingAndGlyphs"><tspan font-style="italic">E</tspan><tspan font-size="6.16" dy="2.2">B</tspan><tspan dy="-2.2"> / eV</tspan></text>
<text x="481.80" y="385.50" font-size="8.8" fill="#404040" stroke="#404040" stroke-width="0.15" textLength="25.50" lengthAdjust="spacingAndGlyphs"><tspan font-style="italic">E</tspan><tspan font-size="6.16" dy="2.2">B</tspan><tspan dy="-2.2"> / eV</tspan></text>
<text x="19.20" y="319.30" font-size="9.2" stroke="#3a3a3a" stroke-width="0.15" fill="#3a3a3a" textLength="90.00" lengthAdjust="spacingAndGlyphs" transform="rotate(-90 19.20 319.30)">Normalized intensity</text>
<text x="237.90" y="123.10" font-size="7.9" stroke="#404040" stroke-width="0.15" fill="#404040" textLength="79.80" lengthAdjust="spacingAndGlyphs" transform="rotate(-90 237.90 123.10)">Normalized intensity</text>
<text x="346.00" y="123.30" font-size="7.9" stroke="#404040" stroke-width="0.15" fill="#404040" textLength="80.00" lengthAdjust="spacingAndGlyphs" transform="rotate(-90 346.00 123.30)">Normalized intensity</text>
<text x="455.10" y="123.30" font-size="7.9" stroke="#404040" stroke-width="0.15" fill="#404040" textLength="80.00" lengthAdjust="spacingAndGlyphs" transform="rotate(-90 455.10 123.30)">Normalized intensity</text>
<text x="237.90" y="318.30" font-size="7.9" stroke="#404040" stroke-width="0.15" fill="#404040" textLength="79.90" lengthAdjust="spacingAndGlyphs" transform="rotate(-90 237.90 318.30)">Normalized intensity</text>
<text x="345.40" y="318.30" font-size="7.9" stroke="#404040" stroke-width="0.15" fill="#404040" textLength="79.90" lengthAdjust="spacingAndGlyphs" transform="rotate(-90 345.40 318.30)">Normalized intensity</text>
<text x="450.10" y="319.00" font-size="7.9" stroke="#404040" stroke-width="0.15" fill="#404040" textLength="80.00" lengthAdjust="spacingAndGlyphs" transform="rotate(-90 450.10 319.00)">Normalized intensity</text>
<text x="318.80" y="85.60" font-size="7.0" stroke="#404040" stroke-width="0.3" fill="#404040" textLength="8.80" lengthAdjust="spacingAndGlyphs">15°</text>
<text x="318.80" y="105.50" font-size="7.0" stroke="#404040" stroke-width="0.3" fill="#404040" textLength="8.80" lengthAdjust="spacingAndGlyphs">30°</text>
<text x="318.80" y="119.50" font-size="7.0" stroke="#404040" stroke-width="0.3" fill="#404040" textLength="8.80" lengthAdjust="spacingAndGlyphs">45°</text>
<text x="318.80" y="135.30" font-size="7.0" stroke="#404040" stroke-width="0.3" fill="#404040" textLength="8.80" lengthAdjust="spacingAndGlyphs">60°</text>
<text x="318.80" y="150.80" font-size="7.0" stroke="#404040" stroke-width="0.3" fill="#404040" textLength="8.80" lengthAdjust="spacingAndGlyphs">75°</text>
<text x="318.80" y="168.30" font-size="7.0" stroke="#404040" stroke-width="0.3" fill="#404040" textLength="8.80" lengthAdjust="spacingAndGlyphs">90°</text>
<text x="427.40" y="53.80" font-size="7.0" stroke="#404040" stroke-width="0.3" fill="#404040" textLength="8.80" lengthAdjust="spacingAndGlyphs">15°</text>
<text x="427.40" y="91.20" font-size="7.0" stroke="#404040" stroke-width="0.3" fill="#404040" textLength="8.80" lengthAdjust="spacingAndGlyphs">30°</text>
<text x="427.40" y="120.40" font-size="7.0" stroke="#404040" stroke-width="0.3" fill="#404040" textLength="8.80" lengthAdjust="spacingAndGlyphs">45°</text>
<text x="427.40" y="140.50" font-size="7.0" stroke="#404040" stroke-width="0.3" fill="#404040" textLength="8.80" lengthAdjust="spacingAndGlyphs">60°</text>
<text x="427.40" y="153.30" font-size="7.0" stroke="#404040" stroke-width="0.3" fill="#404040" textLength="8.80" lengthAdjust="spacingAndGlyphs">75°</text>
<text x="427.40" y="167.00" font-size="7.0" stroke="#404040" stroke-width="0.3" fill="#404040" textLength="8.80" lengthAdjust="spacingAndGlyphs">90°</text>
<text x="535.60" y="67.80" font-size="7.0" stroke="#404040" stroke-width="0.3" fill="#404040" textLength="8.80" lengthAdjust="spacingAndGlyphs">15°</text>
<text x="535.60" y="109.40" font-size="7.0" stroke="#404040" stroke-width="0.3" fill="#404040" textLength="8.80" lengthAdjust="spacingAndGlyphs">30°</text>
<text x="535.60" y="124.70" font-size="7.0" stroke="#404040" stroke-width="0.3" fill="#404040" textLength="8.80" lengthAdjust="spacingAndGlyphs">45°</text>
<text x="535.60" y="139.50" font-size="7.0" stroke="#404040" stroke-width="0.3" fill="#404040" textLength="8.80" lengthAdjust="spacingAndGlyphs">60°</text>
<text x="535.60" y="154.00" font-size="7.0" stroke="#404040" stroke-width="0.3" fill="#404040" textLength="8.80" lengthAdjust="spacingAndGlyphs">75°</text>
<text x="535.60" y="166.30" font-size="7.0" stroke="#404040" stroke-width="0.3" fill="#404040" textLength="8.80" lengthAdjust="spacingAndGlyphs">90°</text>
<text x="318.40" y="246.30" font-size="7.0" stroke="#404040" stroke-width="0.3" fill="#404040" textLength="8.80" lengthAdjust="spacingAndGlyphs">15°</text>
<text x="318.40" y="272.30" font-size="7.0" stroke="#404040" stroke-width="0.3" fill="#404040" textLength="8.80" lengthAdjust="spacingAndGlyphs">30°</text>
<text x="318.40" y="294.40" font-size="7.0" stroke="#404040" stroke-width="0.3" fill="#404040" textLength="8.80" lengthAdjust="spacingAndGlyphs">45°</text>
<text x="318.40" y="318.10" font-size="7.0" stroke="#404040" stroke-width="0.3" fill="#404040" textLength="8.80" lengthAdjust="spacingAndGlyphs">60°</text>
<text x="318.40" y="339.70" font-size="7.0" stroke="#404040" stroke-width="0.3" fill="#404040" textLength="8.80" lengthAdjust="spacingAndGlyphs">75°</text>
<text x="318.40" y="360.00" font-size="7.0" stroke="#404040" stroke-width="0.3" fill="#404040" textLength="8.80" lengthAdjust="spacingAndGlyphs">90°</text>
<text x="426.80" y="259.80" font-size="7.0" stroke="#404040" stroke-width="0.3" fill="#404040" textLength="8.80" lengthAdjust="spacingAndGlyphs">15°</text>
<text x="426.80" y="276.40" font-size="7.0" stroke="#404040" stroke-width="0.3" fill="#404040" textLength="8.80" lengthAdjust="spacingAndGlyphs">30°</text>
<text x="426.80" y="298.30" font-size="7.0" stroke="#404040" stroke-width="0.3" fill="#404040" textLength="8.80" lengthAdjust="spacingAndGlyphs">45°</text>
<text x="426.80" y="321.40" font-size="7.0" stroke="#404040" stroke-width="0.3" fill="#404040" textLength="8.80" lengthAdjust="spacingAndGlyphs">60°</text>
<text x="426.80" y="343.60" font-size="7.0" stroke="#404040" stroke-width="0.3" fill="#404040" textLength="8.80" lengthAdjust="spacingAndGlyphs">75°</text>
<text x="426.80" y="362.40" font-size="7.0" stroke="#404040" stroke-width="0.3" fill="#404040" textLength="8.80" lengthAdjust="spacingAndGlyphs">90°</text>
<text x="531.00" y="238.60" font-size="7.0" stroke="#404040" stroke-width="0.3" fill="#404040" textLength="8.80" lengthAdjust="spacingAndGlyphs">15°</text>
<text x="531.00" y="266.20" font-size="7.0" stroke="#404040" stroke-width="0.3" fill="#404040" textLength="8.80" lengthAdjust="spacingAndGlyphs">30°</text>
<text x="531.00" y="294.40" font-size="7.0" stroke="#404040" stroke-width="0.3" fill="#404040" textLength="8.80" lengthAdjust="spacingAndGlyphs">45°</text>
<text x="531.00" y="316.20" font-size="7.0" stroke="#404040" stroke-width="0.3" fill="#404040" textLength="8.80" lengthAdjust="spacingAndGlyphs">60°</text>
<text x="531.00" y="338.40" font-size="7.0" stroke="#404040" stroke-width="0.3" fill="#404040" textLength="8.80" lengthAdjust="spacingAndGlyphs">75°</text>
<text x="531.00" y="359.20" font-size="7.0" stroke="#404040" stroke-width="0.3" fill="#404040" textLength="8.80" lengthAdjust="spacingAndGlyphs">90°</text>
<text x="75.40" y="147.20" font-size="9.9" stroke="#3a3a3a" stroke-width="0.25" fill="#3a3a3a" textLength="24.60" lengthAdjust="spacingAndGlyphs">Cu 2p</text>
<text x="52.90" y="217.80" font-size="9.5" stroke="#3a3a3a" stroke-width="0.25" fill="#3a3a3a" textLength="23.60" lengthAdjust="spacingAndGlyphs">Cu 2s</text>
<text x="118.70" y="239.50" font-size="8.3" fill="#3a3a3a" stroke="#3a3a3a" stroke-width="0.15" textLength="58.60" lengthAdjust="spacingAndGlyphs" transform="rotate(-90 118.70 239.50)">Cu L<tspan font-size="5.6" dy="2.4">3</tspan><tspan dy="-2.4">M</tspan><tspan font-size="5.6" dy="2.4">2,3</tspan><tspan dy="-2.4">M</tspan><tspan font-size="5.6" dy="2.4">2,3</tspan></text>
<text x="130.60" y="250.70" font-size="8.3" fill="#3a3a3a" stroke="#3a3a3a" stroke-width="0.15" textLength="57.80" lengthAdjust="spacingAndGlyphs" transform="rotate(-90 130.60 250.70)">Cu L<tspan font-size="5.6" dy="2.4">3</tspan><tspan dy="-2.4">M</tspan><tspan font-size="5.6" dy="2.4">2,3</tspan><tspan dy="-2.4">M</tspan><tspan font-size="5.6" dy="2.4">4,5</tspan></text>
<text x="143.00" y="252.00" font-size="8.3" fill="#3a3a3a" stroke="#3a3a3a" stroke-width="0.15" textLength="57.90" lengthAdjust="spacingAndGlyphs" transform="rotate(-90 143.00 252.00)">Cu L<tspan font-size="5.6" dy="2.4">3</tspan><tspan dy="-2.4">M</tspan><tspan font-size="5.6" dy="2.4">4,5</tspan><tspan dy="-2.4">M</tspan><tspan font-size="5.6" dy="2.4">4,5</tspan></text>
<text x="149.40" y="292.00" font-size="9.0" fill="#3a3a3a" stroke="#3a3a3a" stroke-width="0.15" textLength="19.10" lengthAdjust="spacingAndGlyphs" transform="rotate(-90 149.40 292.00)">O 1s</text>
<text x="168.30" y="277.00" font-size="9.0" fill="#3a3a3a" stroke="#3a3a3a" stroke-width="0.15" textLength="19.10" lengthAdjust="spacingAndGlyphs" transform="rotate(-90 168.30 277.00)">N 1s</text>
<text x="183.80" y="222.80" font-size="9.0" fill="#3a3a3a" stroke="#3a3a3a" stroke-width="0.15" textLength="17.90" lengthAdjust="spacingAndGlyphs" transform="rotate(-90 183.80 222.80)">C 1s</text>
<text x="194.70" y="337.10" font-size="9.0" fill="#3a3a3a" stroke="#3a3a3a" stroke-width="0.15" textLength="19.30" lengthAdjust="spacingAndGlyphs" transform="rotate(-90 194.70 337.10)">Cl 2p</text>
<text x="206.90" y="332.00" font-size="9.0" fill="#3a3a3a" stroke="#3a3a3a" stroke-width="0.15" textLength="23.40" lengthAdjust="spacingAndGlyphs" transform="rotate(-90 206.90 332.00)">Cu 3s</text>
<text x="216.10" y="323.90" font-size="9.0" fill="#3a3a3a" stroke="#3a3a3a" stroke-width="0.15" textLength="24.50" lengthAdjust="spacingAndGlyphs" transform="rotate(-90 216.10 323.90)">Cu 3p</text>
</svg>
</body></html>
